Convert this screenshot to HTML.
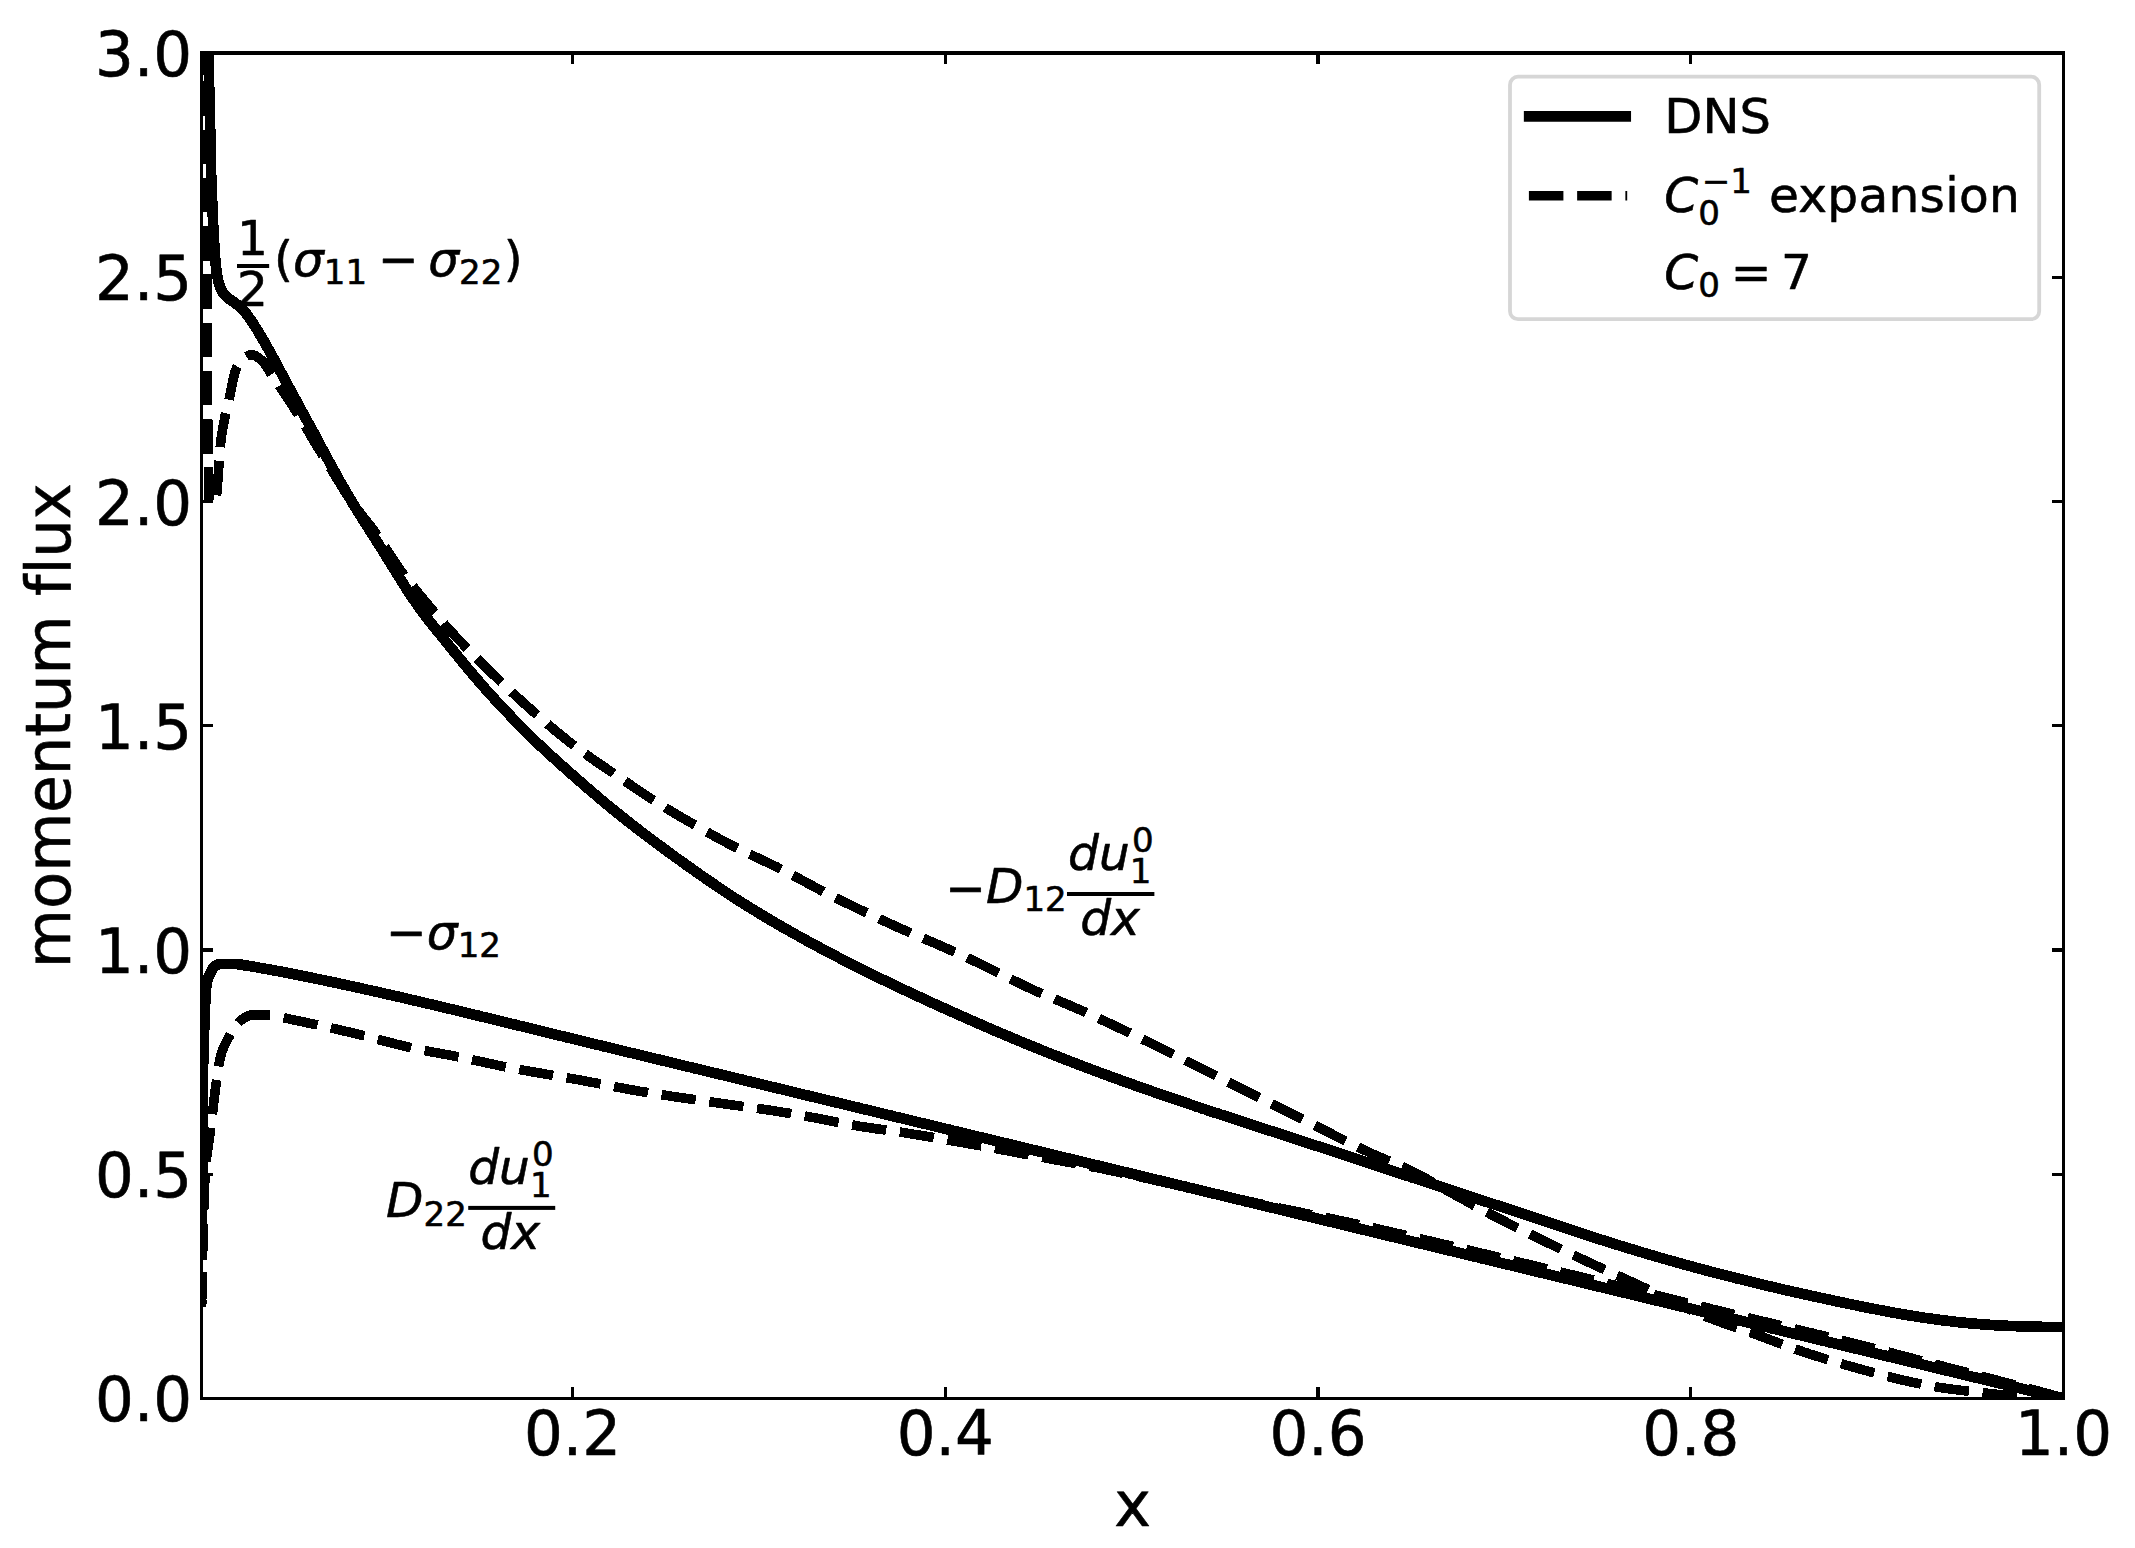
<!DOCTYPE html>
<html lang="en"><head><meta charset="utf-8"><title>momentum flux</title>
<style>html,body{margin:0;padding:0;background:#fff;overflow:hidden}svg{display:block}text{font-family:"DejaVu Sans","Liberation Sans",sans-serif;fill:#000;stroke:#000;stroke-width:0.6px;stroke-linejoin:round;font-variant-ligatures:none;font-kerning:normal}.it{font-style:oblique}</style></head><body>
<svg width="2135" height="1548" viewBox="0 0 2135 1548">
<rect width="2135" height="1548" fill="#fff"/>
<defs><clipPath id="ax"><rect x="201.5" y="53.0" width="1862.0" height="1345.4"/></clipPath></defs>
<g clip-path="url(#ax)" fill="none" stroke="#000" stroke-linejoin="round" shape-rendering="crispEdges">
<path d="M207.5 20.0L207.5 22.0L207.6 24.0L207.6 26.0L207.7 28.0L207.7 30.0L207.8 32.0L207.8 34.0L207.9 36.0L207.9 38.0L208.0 40.0L208.0 42.0L208.1 44.0L208.1 46.0L208.2 48.0L208.2 50.0L208.3 52.0L208.3 54.0L208.4 56.0L208.4 58.0L208.5 60.0L208.5 62.0L208.6 64.1L208.6 66.1L208.7 68.1L208.7 70.1L208.8 72.1L208.8 74.1L208.9 76.1L208.9 78.1L209.0 80.1L209.0 82.1L209.1 84.1L209.1 86.1L209.2 88.1L209.2 90.1L209.3 92.1L209.3 94.1L209.4 96.1L209.4 98.1L209.5 100.1L209.5 102.1L209.6 104.1L209.6 106.1L209.7 108.1L209.7 110.1L209.8 112.1L209.8 114.1L209.9 116.1L209.9 118.1L210.0 120.1L210.0 122.1L210.0 124.1L210.1 126.1L210.1 128.1L210.2 130.1L210.2 132.1L210.3 134.1L210.3 136.1L210.3 138.1L210.4 140.1L210.4 142.1L210.4 144.1L210.5 146.1L210.5 148.1L210.6 150.2L210.6 152.2L210.6 154.2L210.7 156.2L210.7 158.2L210.8 160.2L210.8 162.2L210.9 164.2L210.9 166.2L211.0 168.2L211.0 170.2L211.1 172.2L211.1 174.2L211.2 176.2L211.2 178.2L211.3 180.2L211.4 182.2L211.4 184.2L211.5 186.2L211.6 188.2L211.7 190.2L211.7 192.2L211.8 194.2L211.9 196.2L212.0 198.2L212.1 200.2L212.2 202.2L212.2 204.2L212.3 206.2L212.4 208.2L212.5 210.2L212.6 212.2L212.7 214.2L212.8 216.2L212.9 218.2L213.0 220.2L213.0 222.2L213.1 224.2L213.2 226.2L213.3 228.2L213.4 230.2L213.5 232.2L213.7 234.2L213.8 236.2L213.9 238.2L214.0 240.2L214.1 242.2L214.2 244.2L214.4 246.2L214.5 248.2L214.6 250.2L214.7 252.2L214.9 254.2L215.0 256.2L215.2 258.2L215.3 260.2L215.5 262.2L215.7 264.2L215.9 266.2L216.1 268.2L216.4 270.2L216.7 272.1L217.0 274.1L217.3 276.1L217.7 278.1L218.1 280.0L218.6 282.0L219.1 284.0L219.7 286.0L220.4 287.9L221.2 289.7L222.0 291.4L223.0 293.0L224.3 294.5L225.8 296.0L227.4 297.4L228.9 298.7L230.5 299.9L232.1 301.0L233.8 302.1L235.4 303.3L237.0 304.5L238.5 305.8L240.0 307.2L241.5 308.5L242.9 309.9L244.3 311.4L245.6 312.9L246.8 314.4L248.0 316.1L249.2 317.7L250.3 319.4L251.5 321.0L252.6 322.7L253.7 324.4L254.8 326.1L255.8 327.8L256.9 329.4L258.0 331.2L259.0 332.9L260.0 334.6L261.0 336.3L262.1 338.0L263.1 339.8L264.1 341.5L265.1 343.2L266.1 345.0L267.0 346.7L268.0 348.5L269.0 350.2L270.0 352.0L270.9 353.7L271.9 355.5L272.8 357.3L273.8 359.0L274.7 360.8L275.7 362.6L276.6 364.3L277.6 366.1L278.5 367.9L279.5 369.6L280.4 371.4L281.3 373.1L282.3 374.9L283.2 376.7L284.2 378.4L285.1 380.2L286.1 382.0L287.0 383.7L288.0 385.5L288.9 387.3L289.9 389.0L290.8 390.8L291.8 392.6L292.7 394.3L293.7 396.1L294.6 397.8L295.6 399.6L296.5 401.4L297.5 403.1L298.5 404.9L299.4 406.6L300.4 408.4L301.3 410.2L302.3 411.9L303.2 413.7L304.2 415.4L305.2 417.2L306.1 419.0L307.1 420.7L308.0 422.5L309.0 424.2L309.9 426.0L310.9 427.8L311.8 429.5L312.8 431.3L313.8 433.0L314.7 434.8L315.7 436.6L316.6 438.3L317.6 440.1L318.5 441.9L319.4 443.6L320.4 445.4L321.3 447.2L322.3 448.9L323.2 450.7L324.2 452.4L325.1 454.2L326.1 456.0L327.0 457.7L328.0 459.5L328.9 461.3L329.9 463.0L330.8 464.8L331.8 466.6L332.7 468.3L333.7 470.1L334.7 471.8L335.6 473.6L336.6 475.3L337.6 477.1L338.6 478.8L339.5 480.6L340.5 482.3L341.5 484.1L342.5 485.8L343.5 487.5L344.5 489.3L345.5 491.0L346.5 492.7L347.5 494.5L348.5 496.2L349.6 497.9L350.6 499.6L351.6 501.3L352.7 503.1L353.7 504.8L354.8 506.5L355.8 508.2L356.9 509.9L357.9 511.6L359.0 513.3L360.0 515.0L361.1 516.7L362.2 518.4L363.3 520.1L364.3 521.8L365.4 523.4L366.5 525.1L367.6 526.8L368.6 528.5L369.7 530.2L370.8 531.9L371.9 533.6L372.9 535.3L374.0 537.0L375.1 538.6L376.2 540.3L377.2 542.0L378.3 543.7L379.4 545.4L380.4 547.1L381.5 548.8L382.6 550.5L383.6 552.2L384.7 553.9L385.7 555.6L386.8 557.3L387.8 559.0L388.9 560.7L389.9 562.4L391.0 564.1L392.1 565.8L393.1 567.5L394.2 569.2L395.2 570.9L396.3 572.6L397.3 574.3L398.4 576.0L399.5 577.7L400.5 579.4L401.6 581.1L402.7 582.8L403.7 584.5L404.8 586.2L405.9 587.9L407.0 589.6L408.1 591.2L409.2 592.9L410.3 594.6L411.4 596.3L412.5 597.9L413.6 599.6L414.8 601.2L415.9 602.9L417.1 604.5L418.2 606.1L419.4 607.8L420.6 609.4L421.7 611.0L422.9 612.6L424.1 614.2L425.3 615.8L426.6 617.4L427.8 619.0L429.0 620.6L430.3 622.1L431.5 623.7L432.7 625.3L434.0 626.9L435.2 628.4L436.5 630.0L437.8 631.5L439.0 633.1L440.3 634.6L441.5 636.2L442.8 637.8L444.1 639.3L445.3 640.9L446.6 642.4L447.8 644.0L449.1 645.6L450.4 647.1L451.6 648.7L452.9 650.2L454.1 651.8L455.4 653.3L456.7 654.9L457.9 656.4L459.2 658.0L460.5 659.5L461.7 661.1L463.0 662.6L464.3 664.2L465.6 665.7L466.8 667.3L468.1 668.8L469.4 670.3L470.7 671.9L472.0 673.4L473.3 674.9L474.6 676.5L475.9 678.0L477.2 679.5L478.5 681.0L479.8 682.5L481.1 684.0L482.4 685.6L483.8 687.1L485.1 688.6L486.4 690.1L487.7 691.5L489.1 693.0L490.4 694.5L491.8 696.0L493.1 697.5L494.5 699.0L495.8 700.4L497.2 701.9L498.5 703.4L499.9 704.8L501.3 706.3L502.7 707.8L504.0 709.2L505.4 710.7L506.8 712.1L508.2 713.6L509.6 715.0L510.9 716.5L512.3 717.9L513.7 719.4L515.1 720.8L516.5 722.2L517.9 723.7L519.3 725.1L520.7 726.5L522.1 727.9L523.5 729.4L524.9 730.8L526.4 732.2L527.8 733.6L529.2 735.0L530.6 736.4L532.1 737.8L533.5 739.2L534.9 740.6L536.4 742.0L537.8 743.4L539.3 744.8L540.7 746.2L542.2 747.6L543.6 748.9L545.1 750.3L546.6 751.6L548.0 753.0L549.5 754.3L551.0 755.7L552.5 757.0L554.0 758.4L555.5 759.7L557.0 761.1L558.4 762.4L559.9 763.7L561.4 765.1L562.9 766.4L564.4 767.7L565.9 769.1L567.4 770.4L568.9 771.7L570.4 773.1L571.9 774.4L573.4 775.7L574.9 777.1L576.4 778.4L577.9 779.7L579.4 781.0L580.9 782.3L582.4 783.7L583.9 785.0L585.5 786.3L587.0 787.6L588.5 788.9L590.0 790.2L591.5 791.5L593.0 792.8L594.6 794.1L596.1 795.4L597.6 796.7L599.1 798.0L600.7 799.3L602.2 800.6L603.7 801.9L605.3 803.2L606.8 804.4L608.4 805.7L609.9 807.0L611.5 808.2L613.0 809.5L614.6 810.8L616.1 812.0L617.7 813.3L619.3 814.5L620.8 815.8L622.4 817.0L623.9 818.3L625.5 819.5L627.1 820.8L628.7 822.0L630.2 823.2L631.8 824.5L633.4 825.7L635.0 826.9L636.6 828.2L638.2 829.4L639.7 830.6L641.3 831.8L642.9 833.0L644.5 834.2L646.1 835.5L647.7 836.7L649.3 837.9L650.9 839.1L652.5 840.3L654.1 841.5L655.7 842.7L657.3 843.9L659.0 845.1L660.6 846.2L662.2 847.4L663.8 848.6L665.4 849.8L667.0 851.0L668.6 852.2L670.3 853.3L671.9 854.5L673.5 855.7L675.1 856.9L676.7 858.1L678.4 859.2L680.0 860.4L681.6 861.6L683.2 862.7L684.9 863.9L686.5 865.1L688.1 866.2L689.8 867.4L691.4 868.5L693.0 869.7L694.7 870.9L696.3 872.0L697.9 873.2L699.6 874.3L701.2 875.5L702.9 876.6L704.5 877.8L706.2 878.9L707.8 880.0L709.5 881.2L711.1 882.3L712.8 883.4L714.4 884.6L716.1 885.7L717.7 886.8L719.4 887.9L721.1 889.0L722.7 890.2L724.4 891.3L726.1 892.4L727.7 893.5L729.4 894.6L731.1 895.7L732.8 896.8L734.4 897.9L736.1 898.9L737.8 900.0L739.5 901.1L741.2 902.2L742.9 903.2L744.6 904.3L746.3 905.4L748.0 906.4L749.7 907.5L751.4 908.5L753.1 909.6L754.8 910.6L756.5 911.7L758.2 912.7L759.9 913.8L761.6 914.8L763.4 915.8L765.1 916.9L766.8 917.9L768.5 918.9L770.2 919.9L772.0 920.9L773.7 921.9L775.4 923.0L777.2 924.0L778.9 925.0L780.6 926.0L782.4 927.0L784.1 928.0L785.8 929.0L787.6 929.9L789.3 930.9L791.1 931.9L792.8 932.9L794.6 933.9L796.3 934.9L798.1 935.8L799.8 936.8L801.6 937.8L803.3 938.7L805.1 939.7L806.8 940.7L808.6 941.6L810.3 942.6L812.1 943.5L813.9 944.5L815.6 945.4L817.4 946.4L819.2 947.3L820.9 948.3L822.7 949.2L824.5 950.2L826.2 951.1L828.0 952.0L829.8 953.0L831.6 953.9L833.3 954.8L835.1 955.7L836.9 956.7L838.7 957.6L840.4 958.5L842.2 959.4L844.0 960.3L845.8 961.2L847.6 962.2L849.4 963.1L851.1 964.0L852.9 964.9L854.7 965.8L856.5 966.7L858.3 967.6L860.1 968.5L861.9 969.4L863.7 970.3L865.5 971.2L867.3 972.0L869.1 972.9L870.8 973.8L872.6 974.7L874.4 975.6L876.2 976.5L878.0 977.3L879.8 978.2L881.6 979.1L883.4 980.0L885.3 980.8L887.1 981.7L888.9 982.6L890.7 983.4L892.5 984.3L894.3 985.2L896.1 986.0L897.9 986.9L899.7 987.8L901.5 988.6L903.3 989.5L905.1 990.3L907.0 991.2L908.8 992.0L910.6 992.9L912.4 993.7L914.2 994.6L916.0 995.4L917.8 996.3L919.7 997.1L921.5 997.9L923.3 998.8L925.1 999.6L926.9 1000.5L928.8 1001.3L930.6 1002.1L932.4 1003.0L934.2 1003.8L936.0 1004.6L937.9 1005.5L939.7 1006.3L941.5 1007.1L943.3 1007.9L945.2 1008.8L947.0 1009.6L948.8 1010.4L950.6 1011.2L952.5 1012.0L954.3 1012.9L956.1 1013.7L958.0 1014.5L959.8 1015.3L961.6 1016.1L963.4 1016.9L965.3 1017.7L967.1 1018.6L968.9 1019.4L970.8 1020.2L972.6 1021.0L974.4 1021.8L976.3 1022.6L978.1 1023.4L979.9 1024.2L981.8 1025.0L983.6 1025.8L985.5 1026.6L987.3 1027.4L989.1 1028.2L991.0 1029.0L992.8 1029.8L994.6 1030.6L996.5 1031.4L998.3 1032.1L1000.2 1032.9L1002.0 1033.7L1003.9 1034.5L1005.7 1035.3L1007.5 1036.1L1009.4 1036.8L1011.2 1037.6L1013.1 1038.4L1014.9 1039.2L1016.8 1039.9L1018.6 1040.7L1020.5 1041.5L1022.3 1042.3L1024.2 1043.0L1026.0 1043.8L1027.9 1044.6L1029.7 1045.3L1031.6 1046.1L1033.4 1046.8L1035.3 1047.6L1037.1 1048.3L1039.0 1049.1L1040.9 1049.8L1042.7 1050.6L1044.6 1051.3L1046.4 1052.1L1048.3 1052.8L1050.2 1053.6L1052.0 1054.3L1053.9 1055.0L1055.7 1055.8L1057.6 1056.5L1059.5 1057.2L1061.3 1058.0L1063.2 1058.7L1065.1 1059.4L1066.9 1060.2L1068.8 1060.9L1070.7 1061.6L1072.5 1062.3L1074.4 1063.0L1076.3 1063.8L1078.1 1064.5L1080.0 1065.2L1081.9 1065.9L1083.8 1066.6L1085.6 1067.3L1087.5 1068.0L1089.4 1068.7L1091.3 1069.4L1093.1 1070.1L1095.0 1070.8L1096.9 1071.5L1098.8 1072.2L1100.6 1072.9L1102.5 1073.6L1104.4 1074.3L1106.3 1075.0L1108.2 1075.7L1110.0 1076.4L1111.9 1077.1L1113.8 1077.7L1115.7 1078.4L1117.6 1079.1L1119.5 1079.8L1121.3 1080.5L1123.2 1081.2L1125.1 1081.8L1127.0 1082.5L1128.9 1083.2L1130.8 1083.9L1132.7 1084.5L1134.5 1085.2L1136.4 1085.9L1138.3 1086.5L1140.2 1087.2L1142.1 1087.9L1144.0 1088.5L1145.9 1089.2L1147.8 1089.9L1149.7 1090.5L1151.6 1091.2L1153.4 1091.8L1155.3 1092.5L1157.2 1093.1L1159.1 1093.8L1161.0 1094.4L1162.9 1095.1L1164.8 1095.8L1166.7 1096.4L1168.6 1097.1L1170.5 1097.7L1172.4 1098.4L1174.3 1099.0L1176.2 1099.6L1178.1 1100.3L1180.0 1100.9L1181.9 1101.6L1183.8 1102.2L1185.7 1102.9L1187.6 1103.5L1189.5 1104.1L1191.3 1104.8L1193.2 1105.4L1195.1 1106.1L1197.0 1106.7L1198.9 1107.3L1200.8 1108.0L1202.7 1108.6L1204.6 1109.2L1206.5 1109.9L1208.4 1110.5L1210.3 1111.1L1212.2 1111.8L1214.1 1112.4L1216.1 1113.0L1218.0 1113.6L1219.9 1114.3L1221.8 1114.9L1223.7 1115.5L1225.6 1116.2L1227.5 1116.8L1229.4 1117.4L1231.3 1118.0L1233.2 1118.7L1235.1 1119.3L1237.0 1119.9L1238.9 1120.5L1240.8 1121.2L1242.7 1121.8L1244.6 1122.4L1246.5 1123.0L1248.4 1123.6L1250.3 1124.3L1252.2 1124.9L1254.1 1125.5L1256.0 1126.1L1257.9 1126.8L1259.8 1127.4L1261.7 1128.0L1263.6 1128.6L1265.5 1129.2L1267.4 1129.9L1269.3 1130.5L1271.2 1131.1L1273.2 1131.7L1275.1 1132.3L1277.0 1133.0L1278.9 1133.6L1280.8 1134.2L1282.7 1134.8L1284.6 1135.4L1286.5 1136.1L1288.4 1136.7L1290.3 1137.3L1292.2 1137.9L1294.1 1138.5L1296.0 1139.2L1297.9 1139.8L1299.8 1140.4L1301.7 1141.0L1303.6 1141.6L1305.5 1142.3L1307.4 1142.9L1309.3 1143.5L1311.2 1144.1L1313.1 1144.8L1315.0 1145.4L1316.9 1146.0L1318.9 1146.6L1320.8 1147.2L1322.7 1147.9L1324.6 1148.5L1326.5 1149.1L1328.4 1149.7L1330.3 1150.4L1332.2 1151.0L1334.1 1151.6L1336.0 1152.3L1337.9 1152.9L1339.8 1153.5L1341.7 1154.1L1343.6 1154.8L1345.5 1155.4L1347.4 1156.0L1349.3 1156.6L1351.2 1157.3L1353.1 1157.9L1355.0 1158.5L1356.9 1159.2L1358.8 1159.8L1360.7 1160.4L1362.6 1161.0L1364.5 1161.7L1366.4 1162.3L1368.3 1162.9L1370.2 1163.6L1372.1 1164.2L1374.0 1164.8L1375.9 1165.4L1377.8 1166.1L1379.7 1166.7L1381.6 1167.3L1383.5 1168.0L1385.4 1168.6L1387.3 1169.2L1389.2 1169.8L1391.1 1170.5L1393.0 1171.1L1394.9 1171.7L1396.8 1172.4L1398.7 1173.0L1400.6 1173.6L1402.5 1174.2L1404.4 1174.9L1406.3 1175.5L1408.2 1176.1L1410.1 1176.7L1412.1 1177.4L1414.0 1178.0L1415.9 1178.6L1417.8 1179.2L1419.7 1179.9L1421.6 1180.5L1423.5 1181.1L1425.4 1181.7L1427.3 1182.4L1429.2 1183.0L1431.1 1183.6L1433.0 1184.2L1434.9 1184.9L1436.8 1185.5L1438.7 1186.1L1440.6 1186.7L1442.5 1187.4L1444.4 1188.0L1446.3 1188.6L1448.2 1189.3L1450.1 1189.9L1452.0 1190.5L1453.9 1191.1L1455.8 1191.8L1457.7 1192.4L1459.6 1193.0L1461.5 1193.6L1463.4 1194.3L1465.3 1194.9L1467.2 1195.5L1469.1 1196.1L1471.0 1196.8L1472.9 1197.4L1474.8 1198.0L1476.7 1198.6L1478.6 1199.3L1480.5 1199.9L1482.4 1200.5L1484.3 1201.2L1486.3 1201.8L1488.2 1202.4L1490.1 1203.0L1492.0 1203.7L1493.9 1204.3L1495.8 1204.9L1497.7 1205.5L1499.6 1206.2L1501.5 1206.8L1503.4 1207.4L1505.3 1208.1L1507.2 1208.7L1509.1 1209.3L1511.0 1210.0L1512.9 1210.6L1514.8 1211.2L1516.7 1211.8L1518.6 1212.5L1520.5 1213.1L1522.4 1213.7L1524.3 1214.4L1526.2 1215.0L1528.1 1215.6L1530.0 1216.3L1531.9 1216.9L1533.8 1217.5L1535.7 1218.2L1537.6 1218.8L1539.5 1219.4L1541.4 1220.1L1543.3 1220.7L1545.2 1221.3L1547.1 1222.0L1549.0 1222.6L1550.9 1223.2L1552.8 1223.9L1554.7 1224.5L1556.6 1225.1L1558.5 1225.8L1560.4 1226.4L1562.3 1227.0L1564.2 1227.7L1566.1 1228.3L1568.0 1228.9L1569.9 1229.6L1571.8 1230.2L1573.7 1230.8L1575.6 1231.5L1577.5 1232.1L1579.4 1232.7L1581.3 1233.3L1583.2 1234.0L1585.1 1234.6L1587.0 1235.2L1588.9 1235.8L1590.8 1236.4L1592.7 1237.1L1594.6 1237.7L1596.5 1238.3L1598.4 1238.9L1600.3 1239.5L1602.3 1240.1L1604.2 1240.7L1606.1 1241.3L1608.0 1241.9L1609.9 1242.5L1611.8 1243.1L1613.7 1243.7L1615.6 1244.3L1617.5 1244.9L1619.5 1245.5L1621.4 1246.1L1623.3 1246.7L1625.2 1247.3L1627.1 1247.9L1629.0 1248.5L1630.9 1249.0L1632.9 1249.6L1634.8 1250.2L1636.7 1250.8L1638.6 1251.3L1640.5 1251.9L1642.5 1252.5L1644.4 1253.1L1646.3 1253.6L1648.2 1254.2L1650.1 1254.8L1652.1 1255.3L1654.0 1255.9L1655.9 1256.4L1657.8 1257.0L1659.8 1257.6L1661.7 1258.1L1663.6 1258.7L1665.5 1259.2L1667.5 1259.8L1669.4 1260.3L1671.3 1260.9L1673.2 1261.4L1675.2 1261.9L1677.1 1262.5L1679.0 1263.0L1681.0 1263.6L1682.9 1264.1L1684.8 1264.6L1686.7 1265.2L1688.7 1265.7L1690.6 1266.2L1692.5 1266.7L1694.5 1267.3L1696.4 1267.8L1698.3 1268.3L1700.3 1268.8L1702.2 1269.3L1704.1 1269.9L1706.1 1270.4L1708.0 1270.9L1710.0 1271.4L1711.9 1271.9L1713.8 1272.4L1715.8 1272.9L1717.7 1273.4L1719.6 1273.9L1721.6 1274.4L1723.5 1274.9L1725.5 1275.4L1727.4 1275.9L1729.3 1276.4L1731.3 1276.9L1733.2 1277.4L1735.2 1277.9L1737.1 1278.4L1739.1 1278.9L1741.0 1279.3L1742.9 1279.8L1744.9 1280.3L1746.8 1280.8L1748.8 1281.3L1750.7 1281.7L1752.7 1282.2L1754.6 1282.7L1756.6 1283.2L1758.5 1283.6L1760.5 1284.1L1762.4 1284.6L1764.3 1285.0L1766.3 1285.5L1768.2 1286.0L1770.2 1286.4L1772.1 1286.9L1774.1 1287.3L1776.0 1287.8L1778.0 1288.3L1779.9 1288.7L1781.9 1289.2L1783.8 1289.6L1785.8 1290.1L1787.7 1290.5L1789.7 1291.0L1791.7 1291.4L1793.6 1291.8L1795.6 1292.3L1797.5 1292.7L1799.5 1293.2L1801.4 1293.6L1803.4 1294.0L1805.3 1294.5L1807.3 1294.9L1809.2 1295.3L1811.2 1295.8L1813.2 1296.2L1815.1 1296.6L1817.1 1297.1L1819.0 1297.5L1821.0 1297.9L1822.9 1298.3L1824.9 1298.8L1826.9 1299.2L1828.8 1299.6L1830.8 1300.0L1832.7 1300.5L1834.7 1300.9L1836.6 1301.3L1838.6 1301.7L1840.6 1302.1L1842.5 1302.5L1844.5 1302.9L1846.4 1303.4L1848.4 1303.8L1850.4 1304.2L1852.3 1304.6L1854.3 1305.0L1856.2 1305.4L1858.2 1305.8L1860.2 1306.2L1862.1 1306.6L1864.1 1307.0L1866.1 1307.4L1868.0 1307.8L1870.0 1308.2L1872.0 1308.6L1873.9 1309.0L1875.9 1309.3L1877.9 1309.7L1879.8 1310.1L1881.8 1310.5L1883.8 1310.8L1885.7 1311.2L1887.7 1311.6L1889.7 1311.9L1891.6 1312.3L1893.6 1312.7L1895.6 1313.0L1897.5 1313.4L1899.5 1313.7L1901.5 1314.1L1903.5 1314.4L1905.4 1314.7L1907.4 1315.1L1909.4 1315.4L1911.4 1315.7L1913.3 1316.0L1915.3 1316.4L1917.3 1316.7L1919.3 1317.0L1921.3 1317.3L1923.2 1317.6L1925.2 1317.9L1927.2 1318.2L1929.2 1318.4L1931.2 1318.7L1933.2 1319.0L1935.1 1319.3L1937.1 1319.5L1939.1 1319.8L1941.1 1320.1L1943.1 1320.3L1945.1 1320.6L1947.1 1320.8L1949.0 1321.0L1951.0 1321.3L1953.0 1321.5L1955.0 1321.7L1957.0 1322.0L1959.0 1322.2L1961.0 1322.4L1963.0 1322.6L1965.0 1322.8L1967.0 1323.0L1969.0 1323.2L1971.0 1323.4L1972.9 1323.5L1974.9 1323.7L1976.9 1323.9L1978.9 1324.0L1980.9 1324.2L1982.9 1324.3L1984.9 1324.5L1986.9 1324.6L1988.9 1324.8L1990.9 1324.9L1992.9 1325.0L1994.9 1325.2L1996.9 1325.3L1998.9 1325.4L2000.9 1325.5L2002.9 1325.6L2004.9 1325.7L2006.9 1325.8L2008.9 1325.9L2010.9 1326.0L2012.9 1326.0L2014.9 1326.1L2016.9 1326.2L2018.9 1326.3L2020.9 1326.3L2022.9 1326.4L2024.9 1326.4L2026.9 1326.5L2028.9 1326.6L2030.9 1326.6L2032.9 1326.7L2034.9 1326.7L2036.9 1326.7L2039.0 1326.8L2041.0 1326.8L2043.0 1326.9L2045.0 1326.9L2047.0 1326.9L2049.0 1326.9L2051.0 1327.0L2053.0 1327.0L2055.0 1327.0L2057.0 1327.0L2059.0 1327.1L2061.0 1327.1L2063.0 1327.1L2065.0 1327.1L2067.0 1327.1L2069.0 1327.2L2071.0 1327.2L2073.0 1327.2L2075.0 1327.2" stroke-width="10.7" stroke-linecap="square"/>
<path d="M207.0 33.2L207.0 35.2L207.0 37.2L207.0 39.2L207.0 41.2L207.0 43.2L207.0 45.2L207.0 47.2L207.0 49.2L207.0 51.2L207.0 53.2L207.0 55.2L207.0 57.2L207.0 59.2L207.0 61.2L207.0 63.2L207.0 65.2L207.0 67.2L207.0 69.2L207.0 71.2L207.0 73.2L207.0 75.2L207.0 77.3L207.0 79.3L207.0 81.3L207.0 83.3L207.0 85.3L207.0 87.3L207.0 89.3L207.0 91.3L207.0 93.3L207.0 95.3L207.0 97.3L207.0 99.3L207.0 101.3L207.0 103.3L207.0 105.3L207.0 107.3L207.0 109.3L207.0 111.3L207.0 113.3L207.0 115.3L207.0 117.3L207.0 119.3L207.0 121.3L207.0 123.3L207.0 125.3L207.0 127.3L207.0 129.3L207.0 131.3L207.0 133.3L207.0 135.3L207.0 137.3L207.0 139.3L207.0 141.3L207.0 143.3L207.0 145.3L207.0 147.3L207.0 149.3L207.0 151.3L207.0 153.3L207.0 155.3L207.0 157.3L207.0 159.3L207.0 161.3L207.0 163.4L207.0 165.4L207.0 167.4L207.0 169.4L207.0 171.4L207.0 173.4L207.0 175.4L207.0 177.4L207.0 179.4L207.0 181.4L207.0 183.4L207.0 185.4L207.0 187.4L207.0 189.4L207.0 191.4L207.0 193.4L207.0 195.4L207.0 197.4L207.0 199.4L207.0 201.4L207.0 203.4L207.0 205.4L207.0 207.4L207.0 209.4L207.0 211.4L207.0 213.4L207.0 215.4L207.0 217.4L207.0 219.4L207.0 221.4L207.0 223.4L207.0 225.4L207.0 227.4L207.0 229.4L207.0 231.4L207.0 233.4L207.0 235.4L207.0 237.4L207.0 239.4L207.0 241.4L207.0 243.4L207.0 245.4L207.0 247.4L207.0 249.5L207.0 251.5L207.0 253.5L207.0 255.5L207.0 257.5L207.0 259.5L207.1 261.5L207.1 263.5L207.1 265.5L207.1 267.5L207.1 269.5L207.1 271.5L207.1 273.5L207.1 275.5L207.1 277.5L207.1 279.5L207.1 281.5L207.1 283.5L207.1 285.5L207.1 287.5L207.1 289.5L207.1 291.5L207.1 293.5L207.1 295.5L207.1 297.5L207.1 299.5L207.1 301.5L207.1 303.5L207.1 305.5L207.2 307.5L207.2 309.5L207.2 311.5L207.2 313.5L207.2 315.5L207.2 317.5L207.2 319.5L207.2 321.5L207.2 323.5L207.2 325.5L207.2 327.5L207.2 329.5L207.2 331.5L207.2 333.5L207.2 335.6L207.2 337.6L207.3 339.6L207.3 341.6L207.3 343.6L207.3 345.6L207.3 347.6L207.3 349.6L207.3 351.6L207.3 353.6L207.3 355.6L207.3 357.6L207.3 359.6L207.3 361.6L207.3 363.6L207.4 365.6L207.4 367.6L207.4 369.6L207.4 371.6L207.4 373.6L207.4 375.6L207.4 377.6L207.4 379.6L207.4 381.6L207.4 383.6L207.4 385.6L207.4 387.6L207.5 389.6L207.5 391.6L207.5 393.6L207.5 395.6L207.5 397.6L207.5 399.6L207.5 401.6L207.5 403.6L207.5 405.6L207.5 407.6L207.6 409.6L207.6 411.6L207.6 413.6L207.6 415.6L207.6 417.6L207.7 419.6L207.7 421.6L207.7 423.6L207.7 425.7L207.7 427.7L207.8 429.7L207.8 431.7L207.8 433.7L207.8 435.7L207.9 437.7L207.9 439.7L207.9 441.7L208.0 443.7L208.0 445.7L208.0 447.7L208.0 449.7L208.1 451.7L208.1 453.7L208.1 455.7L208.2 457.7L208.2 459.7L208.2 461.7L208.3 463.7L208.3 465.7L208.3 467.7L208.3 469.7L208.4 471.7L208.4 473.7L208.4 475.7L208.4 477.7L208.4 479.7L208.5 481.8L208.5 483.8L208.5 485.8L208.6 487.8L208.6 489.8L208.7 491.8L208.8 493.7L208.8 495.7L209.1 497.9L209.4 500.0L210.0 501.8L211.0 503.3L212.9 503.8L214.7 502.6L215.5 501.0L216.0 499.0L216.3 496.9L216.6 494.9L216.8 493.0L217.0 491.0L217.2 489.0L217.4 487.0L217.5 485.0L217.6 483.0L217.8 481.0L217.9 479.0L218.1 477.0L218.2 475.0L218.4 473.0L218.5 471.0L218.6 469.0L218.8 467.0L218.9 465.0L219.0 463.0L219.1 461.0L219.3 459.0L219.4 457.0L219.5 455.0L219.7 453.0L219.8 451.0L220.0 449.0L220.2 447.0L220.4 445.0L220.6 443.0L220.9 441.0L221.1 439.1L221.4 437.1L221.7 435.1L222.0 433.1L222.3 431.1L222.7 429.1L223.0 427.2L223.4 425.2L223.7 423.2L224.1 421.3L224.5 419.3L224.9 417.3L225.2 415.4L225.6 413.4L226.1 411.4L226.5 409.5L227.0 407.6L227.5 405.6L228.0 403.7L228.5 401.7L229.0 399.8L229.4 397.8L229.9 395.9L230.3 393.9L230.7 391.9L231.1 389.9L231.4 387.8L231.8 385.8L232.2 383.8L232.6 381.9L233.0 379.9L233.5 377.9L234.0 376.0L234.5 374.1L235.0 372.2L235.6 370.3L236.3 368.5L237.0 366.7L237.9 365.0L239.0 363.2L240.3 361.6L241.6 360.1L243.1 358.9L244.8 357.8L246.5 356.6L248.2 355.5L250.1 355.0L252.1 354.8L254.1 355.1L255.9 355.8L257.5 357.0L259.1 358.3L260.8 359.5L262.3 360.8L263.6 362.2L264.7 363.8L265.9 365.4L266.9 367.1L268.0 368.9L269.0 370.6L270.1 372.4L271.1 374.1L272.2 375.8L273.4 377.4L274.5 379.0L275.7 380.7L276.8 382.3L277.9 384.0L279.1 385.6L280.2 387.3L281.4 388.9L282.5 390.6L283.6 392.2L284.8 393.9L285.9 395.5L287.0 397.2L288.1 398.9L289.2 400.5L290.3 402.2L291.4 403.9L292.5 405.6L293.6 407.3L294.6 409.0L295.7 410.7L296.8 412.4L297.8 414.1L298.8 415.8L299.9 417.5L300.9 419.2L302.0 420.9L303.0 422.6L304.0 424.3L305.1 426.0L306.1 427.8L307.1 429.5L308.1 431.2L309.2 432.9L310.2 434.7L311.2 436.4L312.2 438.1L313.2 439.8L314.3 441.5L315.3 443.3L316.3 445.0L317.4 446.7L318.4 448.4L319.4 450.1L320.5 451.8L321.5 453.5L322.5 455.3L323.6 457.0L324.6 458.7L325.7 460.4L326.7 462.1L327.8 463.8L328.8 465.5L329.9 467.2L330.9 468.9L332.0 470.6L333.0 472.3L334.1 474.0L335.1 475.7L336.2 477.4L337.2 479.1L338.3 480.8L339.3 482.5L340.4 484.3L341.4 486.0L342.5 487.6L343.6 489.3L344.6 491.0L345.7 492.7L346.8 494.4L347.9 496.1L349.0 497.7L350.1 499.4L351.3 501.0L352.4 502.7L353.6 504.3L354.8 505.9L356.0 507.5L357.2 509.1L358.4 510.7L359.6 512.3L360.8 513.9L362.1 515.5L363.3 517.0L364.6 518.6L365.8 520.1L367.1 521.7L368.3 523.3L369.5 524.9L370.8 526.5L372.0 528.1L373.2 529.7L374.4 531.3L375.5 532.9L376.7 534.5L377.8 536.2L379.0 537.8L380.1 539.5L381.2 541.2L382.3 542.8L383.4 544.5L384.5 546.2L385.6 547.8L386.7 549.5L387.8 551.2L388.9 552.9L390.0 554.6L391.1 556.2L392.2 557.9L393.3 559.6L394.4 561.3L395.5 562.9L396.6 564.6L397.7 566.2L398.8 567.9L400.0 569.5L401.2 571.2L402.3 572.8L403.5 574.4L404.7 576.0L405.9 577.6L407.1 579.2L408.3 580.8L409.6 582.4L410.8 583.9L412.1 585.5L413.4 587.0L414.6 588.6L415.9 590.1L417.2 591.7L418.4 593.2L419.7 594.8L421.0 596.3L422.3 597.8L423.6 599.4L424.9 600.9L426.2 602.4L427.4 604.0L428.7 605.5L430.0 607.1L431.3 608.6L432.5 610.1L433.8 611.7L435.1 613.2L436.4 614.8L437.7 616.3L438.9 617.8L440.2 619.4L441.5 620.9L442.9 622.4L444.2 623.9L445.5 625.4L446.8 626.9L448.2 628.4L449.5 629.9L450.8 631.4L452.2 632.8L453.6 634.3L454.9 635.8L456.3 637.2L457.7 638.7L459.1 640.1L460.5 641.6L461.9 643.0L463.2 644.4L464.6 645.9L466.0 647.3L467.4 648.7L468.8 650.2L470.2 651.6L471.7 653.0L473.1 654.5L474.5 655.9L475.9 657.3L477.3 658.7L478.7 660.1L480.1 661.6L481.5 663.0L482.9 664.4L484.4 665.8L485.8 667.2L487.2 668.6L488.6 670.0L490.1 671.4L491.5 672.8L492.9 674.2L494.4 675.6L495.8 677.0L497.2 678.4L498.7 679.8L500.1 681.2L501.6 682.6L503.0 683.9L504.5 685.3L505.9 686.7L507.4 688.1L508.9 689.4L510.3 690.8L511.8 692.2L513.3 693.5L514.7 694.9L516.2 696.2L517.7 697.6L519.2 698.9L520.7 700.3L522.1 701.6L523.6 703.0L525.1 704.3L526.6 705.6L528.1 707.0L529.6 708.3L531.1 709.6L532.6 711.0L534.1 712.3L535.6 713.6L537.1 714.9L538.6 716.3L540.1 717.6L541.6 718.9L543.1 720.2L544.6 721.5L546.2 722.8L547.7 724.1L549.2 725.4L550.7 726.7L552.3 728.0L553.8 729.3L555.3 730.6L556.9 731.9L558.4 733.1L560.0 734.4L561.5 735.7L563.1 736.9L564.6 738.2L566.2 739.4L567.8 740.7L569.3 741.9L570.9 743.2L572.5 744.4L574.1 745.6L575.7 746.8L577.3 748.0L578.9 749.2L580.5 750.4L582.1 751.6L583.7 752.8L585.4 753.9L587.0 755.1L588.6 756.3L590.2 757.4L591.9 758.6L593.5 759.7L595.2 760.9L596.8 762.0L598.5 763.1L600.1 764.3L601.8 765.4L603.4 766.5L605.1 767.6L606.7 768.8L608.4 769.9L610.1 771.0L611.7 772.1L613.4 773.3L615.0 774.4L616.7 775.5L618.3 776.7L620.0 777.8L621.6 778.9L623.3 780.0L624.9 781.2L626.6 782.3L628.3 783.4L629.9 784.5L631.6 785.7L633.2 786.8L634.9 787.9L636.5 789.0L638.2 790.2L639.9 791.3L641.5 792.4L643.2 793.5L644.9 794.6L646.5 795.7L648.2 796.8L649.9 797.9L651.6 799.0L653.3 800.1L654.9 801.1L656.6 802.2L658.3 803.3L660.0 804.3L661.7 805.4L663.4 806.5L665.1 807.5L666.8 808.6L668.5 809.6L670.3 810.6L672.0 811.7L673.7 812.7L675.4 813.7L677.1 814.7L678.9 815.8L680.6 816.8L682.3 817.8L684.0 818.8L685.8 819.8L687.5 820.8L689.2 821.8L691.0 822.8L692.7 823.8L694.4 824.8L696.2 825.8L697.9 826.8L699.7 827.8L701.4 828.8L703.1 829.8L704.9 830.8L706.6 831.8L708.4 832.7L710.1 833.7L711.9 834.7L713.6 835.7L715.4 836.6L717.1 837.6L718.9 838.6L720.6 839.5L722.4 840.5L724.2 841.4L725.9 842.3L727.7 843.3L729.5 844.2L731.3 845.1L733.0 846.0L734.8 847.0L736.6 847.9L738.4 848.7L740.2 849.6L742.0 850.5L743.8 851.4L745.6 852.3L747.4 853.1L749.2 854.0L751.0 854.8L752.8 855.7L754.6 856.5L756.5 857.4L758.3 858.2L760.1 859.1L761.9 859.9L763.7 860.8L765.5 861.6L767.3 862.5L769.1 863.4L770.9 864.2L772.8 865.1L774.6 866.0L776.4 866.8L778.1 867.7L779.9 868.6L781.7 869.5L783.5 870.4L785.3 871.3L787.1 872.3L788.8 873.2L790.6 874.1L792.4 875.1L794.2 876.0L795.9 876.9L797.7 877.9L799.5 878.8L801.2 879.8L803.0 880.7L804.7 881.7L806.5 882.6L808.3 883.6L810.0 884.5L811.8 885.5L813.5 886.4L815.3 887.4L817.1 888.3L818.9 889.3L820.6 890.2L822.4 891.1L824.2 892.1L826.0 893.0L827.7 893.9L829.5 894.8L831.3 895.7L833.1 896.6L834.9 897.5L836.7 898.4L838.5 899.2L840.3 900.1L842.1 901.0L843.9 901.9L845.7 902.8L847.5 903.6L849.3 904.5L851.1 905.4L852.9 906.2L854.7 907.1L856.5 907.9L858.3 908.8L860.1 909.7L861.9 910.5L863.8 911.4L865.6 912.3L867.4 913.1L869.2 914.0L871.0 914.8L872.8 915.7L874.6 916.5L876.4 917.4L878.2 918.3L880.0 919.1L881.9 920.0L883.7 920.8L885.5 921.6L887.3 922.5L889.1 923.3L890.9 924.2L892.8 925.0L894.6 925.8L896.4 926.6L898.2 927.5L900.1 928.3L901.9 929.1L903.7 929.9L905.6 930.7L907.4 931.5L909.2 932.3L911.1 933.1L912.9 933.9L914.8 934.7L916.6 935.4L918.4 936.2L920.3 937.0L922.1 937.8L924.0 938.6L925.8 939.4L927.6 940.2L929.5 941.0L931.3 941.8L933.2 942.5L935.0 943.3L936.8 944.1L938.7 944.9L940.5 945.7L942.3 946.5L944.2 947.3L946.0 948.1L947.8 948.9L949.7 949.8L951.5 950.6L953.3 951.4L955.2 952.2L957.0 953.0L958.8 953.9L960.6 954.7L962.4 955.5L964.3 956.4L966.1 957.2L967.9 958.1L969.7 958.9L971.5 959.7L973.3 960.6L975.1 961.5L977.0 962.3L978.8 963.2L980.6 964.1L982.4 964.9L984.2 965.8L986.0 966.7L987.8 967.6L989.6 968.5L991.3 969.4L993.1 970.2L994.9 971.1L996.7 972.0L998.5 972.9L1000.3 973.8L1002.1 974.7L1003.9 975.6L1005.7 976.5L1007.5 977.4L1009.3 978.3L1011.1 979.2L1012.9 980.1L1014.6 981.0L1016.4 981.8L1018.2 982.7L1020.0 983.6L1021.8 984.5L1023.6 985.3L1025.5 986.2L1027.3 987.1L1029.1 987.9L1030.9 988.8L1032.7 989.6L1034.5 990.4L1036.3 991.3L1038.2 992.1L1040.0 992.9L1041.8 993.7L1043.7 994.5L1045.5 995.3L1047.4 996.1L1049.2 996.9L1051.1 997.6L1052.9 998.4L1054.8 999.2L1056.6 999.9L1058.5 1000.7L1060.3 1001.5L1062.2 1002.2L1064.0 1003.0L1065.8 1003.8L1067.7 1004.5L1069.5 1005.3L1071.4 1006.1L1073.2 1006.9L1075.1 1007.7L1076.9 1008.5L1078.7 1009.3L1080.6 1010.1L1082.4 1010.9L1084.2 1011.7L1086.0 1012.5L1087.9 1013.4L1089.7 1014.2L1091.5 1015.0L1093.3 1015.9L1095.2 1016.7L1097.0 1017.5L1098.8 1018.4L1100.6 1019.2L1102.4 1020.1L1104.2 1020.9L1106.0 1021.8L1107.9 1022.6L1109.7 1023.5L1111.5 1024.3L1113.3 1025.2L1115.1 1026.0L1116.9 1026.9L1118.7 1027.8L1120.5 1028.6L1122.3 1029.5L1124.1 1030.3L1125.9 1031.2L1127.8 1032.1L1129.6 1032.9L1131.4 1033.8L1133.2 1034.7L1135.0 1035.5L1136.8 1036.4L1138.6 1037.3L1140.4 1038.2L1142.2 1039.0L1144.0 1039.9L1145.8 1040.8L1147.6 1041.6L1149.4 1042.5L1151.2 1043.4L1153.0 1044.3L1154.8 1045.2L1156.6 1046.0L1158.4 1046.9L1160.2 1047.8L1162.0 1048.7L1163.8 1049.6L1165.6 1050.5L1167.4 1051.4L1169.1 1052.3L1170.9 1053.2L1172.7 1054.0L1174.5 1054.9L1176.3 1055.8L1178.1 1056.7L1179.9 1057.6L1181.7 1058.5L1183.5 1059.4L1185.3 1060.3L1187.0 1061.2L1188.8 1062.1L1190.6 1063.0L1192.4 1063.9L1194.2 1064.8L1196.0 1065.7L1197.8 1066.6L1199.6 1067.5L1201.3 1068.4L1203.1 1069.3L1204.9 1070.3L1206.7 1071.2L1208.5 1072.1L1210.3 1073.0L1212.1 1073.9L1213.9 1074.8L1215.6 1075.7L1217.4 1076.6L1219.2 1077.5L1221.0 1078.4L1222.8 1079.3L1224.6 1080.2L1226.4 1081.1L1228.1 1082.0L1229.9 1082.9L1231.7 1083.8L1233.5 1084.7L1235.3 1085.6L1237.1 1086.5L1238.9 1087.4L1240.7 1088.3L1242.4 1089.2L1244.2 1090.1L1246.0 1091.0L1247.8 1091.9L1249.6 1092.8L1251.4 1093.7L1253.2 1094.6L1255.0 1095.5L1256.8 1096.4L1258.5 1097.3L1260.3 1098.2L1262.1 1099.1L1263.9 1100.0L1265.7 1100.9L1267.5 1101.8L1269.3 1102.7L1271.1 1103.6L1272.9 1104.5L1274.7 1105.4L1276.5 1106.3L1278.3 1107.2L1280.0 1108.0L1281.8 1108.9L1283.6 1109.8L1285.4 1110.7L1287.2 1111.6L1289.0 1112.5L1290.8 1113.4L1292.6 1114.3L1294.4 1115.2L1296.2 1116.0L1298.0 1116.9L1299.8 1117.8L1301.6 1118.7L1303.4 1119.6L1305.2 1120.5L1306.9 1121.4L1308.7 1122.3L1310.5 1123.2L1312.3 1124.1L1314.1 1125.0L1315.9 1125.9L1317.7 1126.8L1319.5 1127.7L1321.3 1128.6L1323.0 1129.5L1324.8 1130.4L1326.6 1131.3L1328.4 1132.3L1330.2 1133.2L1332.0 1134.1L1333.7 1135.0L1335.5 1135.9L1337.3 1136.8L1339.1 1137.7L1340.9 1138.6L1342.7 1139.5L1344.5 1140.4L1346.3 1141.3L1348.0 1142.2L1349.8 1143.1L1351.6 1144.0L1353.4 1144.8L1355.2 1145.7L1357.0 1146.6L1358.8 1147.5L1360.6 1148.3L1362.4 1149.2L1364.3 1150.1L1366.1 1150.9L1367.9 1151.8L1369.7 1152.6L1371.5 1153.4L1373.3 1154.3L1375.2 1155.1L1377.0 1155.9L1378.8 1156.7L1380.7 1157.5L1382.5 1158.3L1384.4 1159.1L1386.2 1159.8L1388.0 1160.6L1389.9 1161.4L1391.7 1162.2L1393.6 1162.9L1395.4 1163.7L1397.3 1164.5L1399.1 1165.3L1400.9 1166.1L1402.8 1166.9L1404.6 1167.8L1406.4 1168.6L1408.2 1169.5L1410.0 1170.3L1411.8 1171.2L1413.6 1172.1L1415.4 1173.0L1417.2 1173.9L1419.0 1174.8L1420.7 1175.8L1422.5 1176.7L1424.3 1177.7L1426.0 1178.6L1427.8 1179.6L1429.5 1180.6L1431.3 1181.5L1433.0 1182.5L1434.8 1183.5L1436.5 1184.5L1438.3 1185.5L1440.0 1186.4L1441.7 1187.4L1443.5 1188.4L1445.2 1189.4L1447.0 1190.4L1448.7 1191.4L1450.5 1192.4L1452.2 1193.3L1454.0 1194.3L1455.7 1195.3L1457.4 1196.3L1459.2 1197.2L1460.9 1198.2L1462.7 1199.2L1464.5 1200.1L1466.2 1201.1L1468.0 1202.1L1469.7 1203.0L1471.5 1204.0L1473.2 1205.0L1475.0 1205.9L1476.8 1206.9L1478.5 1207.8L1480.3 1208.8L1482.1 1209.7L1483.8 1210.6L1485.6 1211.6L1487.4 1212.5L1489.1 1213.4L1490.9 1214.4L1492.7 1215.3L1494.5 1216.2L1496.2 1217.1L1498.0 1218.0L1499.8 1219.0L1501.6 1219.9L1503.4 1220.8L1505.2 1221.7L1506.9 1222.6L1508.7 1223.5L1510.5 1224.4L1512.3 1225.3L1514.1 1226.2L1515.9 1227.1L1517.7 1228.0L1519.5 1228.9L1521.3 1229.7L1523.1 1230.6L1524.9 1231.5L1526.7 1232.4L1528.5 1233.3L1530.3 1234.2L1532.0 1235.1L1533.8 1235.9L1535.6 1236.8L1537.4 1237.7L1539.2 1238.6L1541.0 1239.5L1542.8 1240.3L1544.6 1241.2L1546.4 1242.1L1548.2 1243.0L1550.0 1243.9L1551.8 1244.7L1553.6 1245.6L1555.4 1246.5L1557.2 1247.3L1559.0 1248.2L1560.9 1249.1L1562.7 1249.9L1564.5 1250.8L1566.3 1251.7L1568.1 1252.5L1569.9 1253.4L1571.7 1254.3L1573.5 1255.1L1575.3 1256.0L1577.1 1256.8L1578.9 1257.7L1580.7 1258.5L1582.6 1259.4L1584.4 1260.3L1586.2 1261.1L1588.0 1261.9L1589.8 1262.8L1591.6 1263.6L1593.4 1264.5L1595.3 1265.3L1597.1 1266.2L1598.9 1267.0L1600.7 1267.8L1602.5 1268.7L1604.4 1269.5L1606.2 1270.3L1608.0 1271.1L1609.8 1272.0L1611.6 1272.8L1613.5 1273.6L1615.3 1274.5L1617.1 1275.3L1618.9 1276.1L1620.8 1276.9L1622.6 1277.8L1624.4 1278.6L1626.2 1279.4L1628.1 1280.3L1629.9 1281.1L1631.7 1281.9L1633.5 1282.8L1635.3 1283.6L1637.2 1284.4L1639.0 1285.3L1640.8 1286.1L1642.6 1287.0L1644.4 1287.8L1646.2 1288.7L1648.0 1289.5L1649.8 1290.4L1651.6 1291.3L1653.4 1292.1L1655.2 1293.0L1657.0 1293.9L1658.8 1294.8L1660.6 1295.6L1662.4 1296.5L1664.2 1297.4L1666.0 1298.3L1667.8 1299.2L1669.6 1300.0L1671.4 1300.9L1673.2 1301.8L1675.0 1302.7L1676.8 1303.5L1678.7 1304.4L1680.5 1305.3L1682.3 1306.1L1684.1 1307.0L1685.9 1307.8L1687.7 1308.7L1689.5 1309.5L1691.4 1310.3L1693.2 1311.2L1695.0 1312.0L1696.8 1312.8L1698.7 1313.6L1700.5 1314.3L1702.4 1315.1L1704.2 1315.9L1706.1 1316.6L1707.9 1317.4L1709.8 1318.1L1711.7 1318.8L1713.5 1319.5L1715.4 1320.2L1717.3 1320.9L1719.2 1321.6L1721.1 1322.3L1723.0 1323.0L1724.8 1323.6L1726.7 1324.3L1728.6 1324.9L1730.5 1325.6L1732.4 1326.3L1734.3 1326.9L1736.2 1327.6L1738.1 1328.2L1740.0 1328.9L1741.9 1329.5L1743.8 1330.2L1745.7 1330.8L1747.5 1331.5L1749.4 1332.2L1751.3 1332.8L1753.2 1333.5L1755.1 1334.2L1757.0 1334.9L1758.8 1335.6L1760.7 1336.3L1762.6 1336.9L1764.5 1337.6L1766.4 1338.4L1768.2 1339.1L1770.1 1339.8L1772.0 1340.5L1773.9 1341.2L1775.7 1341.9L1777.6 1342.6L1779.5 1343.3L1781.4 1344.0L1783.2 1344.7L1785.1 1345.4L1787.0 1346.1L1788.9 1346.8L1790.7 1347.4L1792.6 1348.1L1794.5 1348.8L1796.4 1349.5L1798.3 1350.1L1800.2 1350.8L1802.1 1351.4L1804.0 1352.1L1805.9 1352.7L1807.8 1353.3L1809.7 1354.0L1811.6 1354.6L1813.5 1355.2L1815.4 1355.8L1817.3 1356.4L1819.2 1357.0L1821.1 1357.6L1823.0 1358.2L1824.9 1358.8L1826.9 1359.4L1828.8 1360.0L1830.7 1360.6L1832.6 1361.1L1834.5 1361.7L1836.4 1362.3L1838.4 1362.8L1840.3 1363.4L1842.2 1364.0L1844.1 1364.5L1846.1 1365.1L1848.0 1365.6L1849.9 1366.2L1851.8 1366.7L1853.8 1367.3L1855.7 1367.8L1857.6 1368.4L1859.5 1368.9L1861.5 1369.5L1863.4 1370.0L1865.3 1370.5L1867.3 1371.0L1869.2 1371.6L1871.1 1372.1L1873.1 1372.6L1875.0 1373.1L1876.9 1373.6L1878.9 1374.1L1880.8 1374.7L1882.7 1375.2L1884.7 1375.7L1886.6 1376.2L1888.6 1376.6L1890.5 1377.1L1892.4 1377.6L1894.4 1378.1L1896.3 1378.6L1898.3 1379.0L1900.2 1379.5L1902.2 1380.0L1904.1 1380.4L1906.1 1380.9L1908.0 1381.3L1910.0 1381.8L1911.9 1382.2L1913.9 1382.6L1915.9 1383.0L1917.8 1383.4L1919.8 1383.8L1921.7 1384.2L1923.7 1384.6L1925.7 1385.0L1927.6 1385.4L1929.6 1385.7L1931.6 1386.1L1933.6 1386.4L1935.5 1386.8L1937.5 1387.1L1939.5 1387.4L1941.5 1387.7L1943.4 1388.0L1945.4 1388.3L1947.4 1388.6L1949.4 1388.9L1951.4 1389.1L1953.4 1389.4L1955.3 1389.6L1957.3 1389.9L1959.3 1390.1L1961.3 1390.4L1963.3 1390.6L1965.3 1390.8L1967.3 1391.1L1969.3 1391.3L1971.2 1391.5L1973.2 1391.7L1975.2 1391.9L1977.2 1392.2L1979.2 1392.4L1981.2 1392.6L1983.2 1392.8L1985.2 1393.0L1987.2 1393.2L1989.2 1393.5L1991.2 1393.7L1993.1 1393.9L1995.1 1394.1L1997.1 1394.3L1999.1 1394.5L2001.1 1394.7L2003.1 1394.9L2005.1 1395.1L2007.1 1395.3L2009.1 1395.5L2011.1 1395.7L2013.1 1395.9L2015.1 1396.1L2017.1 1396.2L2019.1 1396.4L2021.0 1396.6L2023.0 1396.7L2025.0 1396.9L2027.0 1397.1L2029.0 1397.2L2031.0 1397.4L2033.0 1397.5L2035.0 1397.7L2037.0 1397.8L2039.0 1397.9L2041.0 1398.1L2043.0 1398.2L2045.0 1398.3L2047.0 1398.5L2049.0 1398.6L2051.0 1398.7L2053.0 1398.8L2055.0 1398.9L2057.0 1399.1L2059.0 1399.2L2061.0 1399.3L2063.0 1399.4L2065.0 1399.5L2067.0 1399.6L2069.0 1399.7L2071.0 1399.8L2073.0 1399.9L2075.0 1400.0" stroke-width="9.6" stroke-dasharray="34.5 13.736" stroke-dashoffset="0"/>
<path d="M201.6 1255.0L201.6 1253.0L201.6 1251.0L201.7 1249.0L201.7 1247.0L201.7 1245.0L201.7 1243.0L201.7 1241.0L201.8 1239.0L201.8 1237.0L201.8 1235.0L201.8 1233.0L201.8 1231.0L201.9 1229.0L201.9 1227.0L201.9 1225.0L201.9 1223.0L201.9 1221.0L202.0 1219.0L202.0 1216.9L202.0 1214.9L202.0 1212.9L202.0 1210.9L202.0 1208.9L202.1 1206.9L202.1 1204.9L202.1 1202.9L202.1 1200.9L202.1 1198.9L202.2 1196.9L202.2 1194.9L202.2 1192.9L202.2 1190.9L202.2 1188.9L202.2 1186.9L202.3 1184.9L202.3 1182.9L202.3 1180.9L202.3 1178.9L202.3 1176.9L202.3 1174.9L202.4 1172.9L202.4 1170.9L202.4 1168.9L202.4 1166.9L202.4 1164.9L202.4 1162.9L202.4 1160.9L202.5 1158.9L202.5 1156.9L202.5 1154.9L202.5 1152.9L202.5 1150.9L202.5 1148.9L202.5 1146.9L202.5 1144.9L202.5 1142.8L202.6 1140.8L202.6 1138.8L202.6 1136.8L202.6 1134.8L202.6 1132.8L202.6 1130.8L202.6 1128.8L202.6 1126.8L202.6 1124.8L202.7 1122.8L202.7 1120.8L202.7 1118.8L202.7 1116.8L202.7 1114.8L202.7 1112.8L202.7 1110.8L202.7 1108.8L202.8 1106.8L202.8 1104.8L202.8 1102.8L202.8 1100.8L202.8 1098.8L202.8 1096.8L202.8 1094.8L202.9 1092.8L202.9 1090.8L202.9 1088.8L202.9 1086.8L202.9 1084.8L202.9 1082.8L203.0 1080.8L203.0 1078.8L203.0 1076.8L203.0 1074.8L203.0 1072.8L203.1 1070.8L203.1 1068.8L203.1 1066.7L203.1 1064.7L203.2 1062.7L203.2 1060.7L203.2 1058.7L203.3 1056.7L203.3 1054.7L203.3 1052.7L203.4 1050.7L203.4 1048.7L203.5 1046.7L203.6 1044.7L203.6 1042.7L203.7 1040.7L203.8 1038.7L203.9 1036.7L203.9 1034.7L204.0 1032.7L204.1 1030.7L204.2 1028.7L204.2 1026.7L204.3 1024.7L204.4 1022.7L204.5 1020.7L204.5 1018.7L204.6 1016.7L204.7 1014.7L204.8 1012.7L204.8 1010.7L204.9 1008.7L205.0 1006.7L205.1 1004.7L205.2 1002.7L205.3 1000.7L205.4 998.7L205.5 996.7L205.6 994.7L205.8 992.7L205.9 990.6L206.1 988.6L206.3 986.7L206.6 984.7L206.8 982.7L207.2 980.8L207.8 978.9L208.6 977.0L209.4 975.2L210.3 973.3L211.1 971.4L212.1 969.4L213.2 967.7L214.4 966.3L215.9 965.4L217.8 964.6L219.9 964.0L221.8 963.9L223.8 963.9L225.8 963.9L227.8 963.9L229.9 963.9L231.9 963.9L233.9 963.9L235.9 964.0L237.9 964.2L239.9 964.5L241.8 964.8L243.8 965.2L245.8 965.5L247.8 965.8L249.8 966.1L251.7 966.4L253.7 966.7L255.7 967.1L257.7 967.4L259.6 967.8L261.6 968.1L263.6 968.5L265.5 968.8L267.5 969.2L269.5 969.6L271.5 969.9L273.4 970.3L275.4 970.6L277.4 971.0L279.3 971.4L281.3 971.7L283.3 972.1L285.2 972.5L287.2 972.9L289.2 973.2L291.1 973.6L293.1 974.0L295.1 974.4L297.0 974.8L299.0 975.2L301.0 975.6L302.9 976.0L304.9 976.4L306.8 976.8L308.8 977.2L310.8 977.6L312.7 978.0L314.7 978.4L316.6 978.8L318.6 979.2L320.6 979.6L322.5 980.0L324.5 980.4L326.4 980.9L328.4 981.3L330.4 981.7L332.3 982.1L334.3 982.5L336.2 982.9L338.2 983.3L340.2 983.8L342.1 984.2L344.1 984.6L346.0 985.0L348.0 985.5L349.9 985.9L351.9 986.3L353.9 986.7L355.8 987.2L357.8 987.6L359.7 988.0L361.7 988.5L363.6 988.9L365.6 989.3L367.6 989.8L369.5 990.2L371.5 990.6L373.4 991.1L375.4 991.5L377.3 991.9L379.3 992.4L381.2 992.8L383.2 993.3L385.1 993.7L387.1 994.2L389.0 994.6L391.0 995.0L392.9 995.5L394.9 995.9L396.9 996.4L398.8 996.8L400.8 997.3L402.7 997.7L404.7 998.2L406.6 998.6L408.6 999.1L410.5 999.6L412.5 1000.0L414.4 1000.5L416.4 1000.9L418.3 1001.4L420.3 1001.8L422.2 1002.3L424.2 1002.7L426.1 1003.2L428.1 1003.7L430.0 1004.1L432.0 1004.6L433.9 1005.1L435.9 1005.5L437.8 1006.0L439.7 1006.4L441.7 1006.9L443.6 1007.4L445.6 1007.8L447.5 1008.3L449.5 1008.8L451.4 1009.2L453.4 1009.7L455.3 1010.2L457.3 1010.6L459.2 1011.1L461.2 1011.6L463.1 1012.0L465.1 1012.5L467.0 1013.0L469.0 1013.4L470.9 1013.9L472.9 1014.4L474.8 1014.9L476.7 1015.3L478.7 1015.8L480.6 1016.3L482.6 1016.8L484.5 1017.2L486.5 1017.7L488.4 1018.2L490.4 1018.6L492.3 1019.1L494.3 1019.6L496.2 1020.1L498.2 1020.5L500.1 1021.0L502.0 1021.5L504.0 1022.0L505.9 1022.4L507.9 1022.9L509.8 1023.4L511.8 1023.9L513.7 1024.3L515.7 1024.8L517.6 1025.3L519.6 1025.8L521.5 1026.2L523.4 1026.7L525.4 1027.2L527.3 1027.7L529.3 1028.2L531.2 1028.6L533.2 1029.1L535.1 1029.6L537.1 1030.1L539.0 1030.5L541.0 1031.0L542.9 1031.5L544.8 1032.0L546.8 1032.4L548.7 1032.9L550.7 1033.4L552.6 1033.9L554.6 1034.3L556.5 1034.8L558.5 1035.3L560.4 1035.8L562.4 1036.2L564.3 1036.7L566.2 1037.2L568.2 1037.7L570.1 1038.1L572.1 1038.6L574.0 1039.1L576.0 1039.6L577.9 1040.0L579.9 1040.5L581.8 1041.0L583.8 1041.5L585.7 1041.9L587.6 1042.4L589.6 1042.9L591.5 1043.4L593.5 1043.8L595.4 1044.3L597.4 1044.8L599.3 1045.2L601.3 1045.7L603.2 1046.2L605.2 1046.6L607.1 1047.1L609.1 1047.6L611.0 1048.1L613.0 1048.5L614.9 1049.0L616.8 1049.5L618.8 1049.9L620.7 1050.4L622.7 1050.9L624.6 1051.3L626.6 1051.8L628.5 1052.3L630.5 1052.8L632.4 1053.2L634.4 1053.7L636.3 1054.2L638.3 1054.6L640.2 1055.1L642.2 1055.6L644.1 1056.0L646.1 1056.5L648.0 1057.0L649.9 1057.5L651.9 1057.9L653.8 1058.4L655.8 1058.9L657.7 1059.3L659.7 1059.8L661.6 1060.3L663.6 1060.7L665.5 1061.2L667.5 1061.7L669.4 1062.2L671.4 1062.6L673.3 1063.1L675.3 1063.6L677.2 1064.0L679.1 1064.5L681.1 1065.0L683.0 1065.4L685.0 1065.9L686.9 1066.4L688.9 1066.9L690.8 1067.3L692.8 1067.8L694.7 1068.3L696.7 1068.7L698.6 1069.2L700.6 1069.7L702.5 1070.1L704.5 1070.6L706.4 1071.1L708.3 1071.6L710.3 1072.0L712.2 1072.5L714.2 1073.0L716.1 1073.4L718.1 1073.9L720.0 1074.4L722.0 1074.8L723.9 1075.3L725.9 1075.8L727.8 1076.3L729.8 1076.7L731.7 1077.2L733.7 1077.7L735.6 1078.1L737.6 1078.6L739.5 1079.1L741.4 1079.5L743.4 1080.0L745.3 1080.5L747.3 1081.0L749.2 1081.4L751.2 1081.9L753.1 1082.4L755.1 1082.8L757.0 1083.3L759.0 1083.8L760.9 1084.2L762.9 1084.7L764.8 1085.2L766.8 1085.7L768.7 1086.1L770.6 1086.6L772.6 1087.1L774.5 1087.5L776.5 1088.0L778.4 1088.5L780.4 1088.9L782.3 1089.4L784.3 1089.9L786.2 1090.4L788.2 1090.8L790.1 1091.3L792.1 1091.8L794.0 1092.2L796.0 1092.7L797.9 1093.2L799.8 1093.6L801.8 1094.1L803.7 1094.6L805.7 1095.1L807.6 1095.5L809.6 1096.0L811.5 1096.5L813.5 1096.9L815.4 1097.4L817.4 1097.9L819.3 1098.3L821.3 1098.8L823.2 1099.3L825.2 1099.8L827.1 1100.2L829.1 1100.7L831.0 1101.2L832.9 1101.6L834.9 1102.1L836.8 1102.6L838.8 1103.0L840.7 1103.5L842.7 1104.0L844.6 1104.5L846.6 1104.9L848.5 1105.4L850.5 1105.9L852.4 1106.3L854.4 1106.8L856.3 1107.3L858.3 1107.7L860.2 1108.2L862.1 1108.7L864.1 1109.2L866.0 1109.6L868.0 1110.1L869.9 1110.6L871.9 1111.0L873.8 1111.5L875.8 1112.0L877.7 1112.5L879.7 1112.9L881.6 1113.4L883.6 1113.9L885.5 1114.3L887.5 1114.8L889.4 1115.3L891.3 1115.7L893.3 1116.2L895.2 1116.7L897.2 1117.2L899.1 1117.6L901.1 1118.1L903.0 1118.6L905.0 1119.0L906.9 1119.5L908.9 1120.0L910.8 1120.4L912.8 1120.9L914.7 1121.4L916.7 1121.9L918.6 1122.3L920.5 1122.8L922.5 1123.3L924.4 1123.7L926.4 1124.2L928.3 1124.7L930.3 1125.1L932.2 1125.6L934.2 1126.1L936.1 1126.6L938.1 1127.0L940.0 1127.5L942.0 1128.0L943.9 1128.4L945.9 1128.9L947.8 1129.4L949.8 1129.8L951.7 1130.3L953.6 1130.8L955.6 1131.3L957.5 1131.7L959.5 1132.2L961.4 1132.7L963.4 1133.1L965.3 1133.6L967.3 1134.1L969.2 1134.5L971.2 1135.0L973.1 1135.5L975.1 1136.0L977.0 1136.4L979.0 1136.9L980.9 1137.4L982.8 1137.8L984.8 1138.3L986.7 1138.8L988.7 1139.2L990.6 1139.7L992.6 1140.2L994.5 1140.7L996.5 1141.1L998.4 1141.6L1000.4 1142.1L1002.3 1142.5L1004.3 1143.0L1006.2 1143.5L1008.2 1143.9L1010.1 1144.4L1012.0 1144.9L1014.0 1145.4L1015.9 1145.8L1017.9 1146.3L1019.8 1146.8L1021.8 1147.2L1023.7 1147.7L1025.7 1148.2L1027.6 1148.6L1029.6 1149.1L1031.5 1149.6L1033.5 1150.1L1035.4 1150.5L1037.4 1151.0L1039.3 1151.5L1041.3 1151.9L1043.2 1152.4L1045.1 1152.9L1047.1 1153.3L1049.0 1153.8L1051.0 1154.3L1052.9 1154.8L1054.9 1155.2L1056.8 1155.7L1058.8 1156.2L1060.7 1156.6L1062.7 1157.1L1064.6 1157.6L1066.6 1158.0L1068.5 1158.5L1070.5 1159.0L1072.4 1159.5L1074.3 1159.9L1076.3 1160.4L1078.2 1160.9L1080.2 1161.3L1082.1 1161.8L1084.1 1162.3L1086.0 1162.7L1088.0 1163.2L1089.9 1163.7L1091.9 1164.2L1093.8 1164.6L1095.8 1165.1L1097.7 1165.6L1099.7 1166.0L1101.6 1166.5L1103.5 1167.0L1105.5 1167.4L1107.4 1167.9L1109.4 1168.4L1111.3 1168.9L1113.3 1169.3L1115.2 1169.8L1117.2 1170.3L1119.1 1170.7L1121.1 1171.2L1123.0 1171.7L1125.0 1172.1L1126.9 1172.6L1128.9 1173.1L1130.8 1173.6L1132.8 1174.0L1134.7 1174.5L1136.6 1175.0L1138.6 1175.4L1140.5 1175.9L1142.5 1176.4L1144.4 1176.8L1146.4 1177.3L1148.3 1177.8L1150.3 1178.3L1152.2 1178.7L1154.2 1179.2L1156.1 1179.7L1158.1 1180.1L1160.0 1180.6L1162.0 1181.1L1163.9 1181.5L1165.8 1182.0L1167.8 1182.5L1169.7 1183.0L1171.7 1183.4L1173.6 1183.9L1175.6 1184.4L1177.5 1184.8L1179.5 1185.3L1181.4 1185.8L1183.4 1186.2L1185.3 1186.7L1187.3 1187.2L1189.2 1187.7L1191.2 1188.1L1193.1 1188.6L1195.0 1189.1L1197.0 1189.5L1198.9 1190.0L1200.9 1190.5L1202.8 1190.9L1204.8 1191.4L1206.7 1191.9L1208.7 1192.4L1210.6 1192.8L1212.6 1193.3L1214.5 1193.8L1216.5 1194.2L1218.4 1194.7L1220.4 1195.2L1222.3 1195.6L1224.2 1196.1L1226.2 1196.6L1228.1 1197.1L1230.1 1197.5L1232.0 1198.0L1234.0 1198.5L1235.9 1198.9L1237.9 1199.4L1239.8 1199.9L1241.8 1200.3L1243.7 1200.8L1245.7 1201.3L1247.6 1201.8L1249.6 1202.2L1251.5 1202.7L1253.5 1203.2L1255.4 1203.6L1257.3 1204.1L1259.3 1204.6L1261.2 1205.0L1263.2 1205.5L1265.1 1206.0L1267.1 1206.5L1269.0 1206.9L1271.0 1207.4L1272.9 1207.9L1274.9 1208.3L1276.8 1208.8L1278.8 1209.3L1280.7 1209.7L1282.7 1210.2L1284.6 1210.7L1286.5 1211.2L1288.5 1211.6L1290.4 1212.1L1292.4 1212.6L1294.3 1213.0L1296.3 1213.5L1298.2 1214.0L1300.2 1214.4L1302.1 1214.9L1304.1 1215.4L1306.0 1215.9L1308.0 1216.3L1309.9 1216.8L1311.9 1217.3L1313.8 1217.7L1315.7 1218.2L1317.7 1218.7L1319.6 1219.1L1321.6 1219.6L1323.5 1220.1L1325.5 1220.6L1327.4 1221.0L1329.4 1221.5L1331.3 1222.0L1333.3 1222.4L1335.2 1222.9L1337.2 1223.4L1339.1 1223.8L1341.1 1224.3L1343.0 1224.8L1345.0 1225.3L1346.9 1225.7L1348.8 1226.2L1350.8 1226.7L1352.7 1227.1L1354.7 1227.6L1356.6 1228.1L1358.6 1228.5L1360.5 1229.0L1362.5 1229.5L1364.4 1230.0L1366.4 1230.4L1368.3 1230.9L1370.3 1231.4L1372.2 1231.8L1374.2 1232.3L1376.1 1232.8L1378.0 1233.2L1380.0 1233.7L1381.9 1234.2L1383.9 1234.7L1385.8 1235.1L1387.8 1235.6L1389.7 1236.1L1391.7 1236.5L1393.6 1237.0L1395.6 1237.5L1397.5 1237.9L1399.5 1238.4L1401.4 1238.9L1403.4 1239.4L1405.3 1239.8L1407.2 1240.3L1409.2 1240.8L1411.1 1241.2L1413.1 1241.7L1415.0 1242.2L1417.0 1242.6L1418.9 1243.1L1420.9 1243.6L1422.8 1244.1L1424.8 1244.5L1426.7 1245.0L1428.7 1245.5L1430.6 1245.9L1432.6 1246.4L1434.5 1246.9L1436.5 1247.3L1438.4 1247.8L1440.3 1248.3L1442.3 1248.8L1444.2 1249.2L1446.2 1249.7L1448.1 1250.2L1450.1 1250.6L1452.0 1251.1L1454.0 1251.6L1455.9 1252.0L1457.9 1252.5L1459.8 1253.0L1461.8 1253.5L1463.7 1253.9L1465.7 1254.4L1467.6 1254.9L1469.5 1255.3L1471.5 1255.8L1473.4 1256.3L1475.4 1256.7L1477.3 1257.2L1479.3 1257.7L1481.2 1258.2L1483.2 1258.6L1485.1 1259.1L1487.1 1259.6L1489.0 1260.0L1491.0 1260.5L1492.9 1261.0L1494.9 1261.4L1496.8 1261.9L1498.7 1262.4L1500.7 1262.9L1502.6 1263.3L1504.6 1263.8L1506.5 1264.3L1508.5 1264.7L1510.4 1265.2L1512.4 1265.7L1514.3 1266.1L1516.3 1266.6L1518.2 1267.1L1520.2 1267.6L1522.1 1268.0L1524.1 1268.5L1526.0 1269.0L1528.0 1269.4L1529.9 1269.9L1531.8 1270.4L1533.8 1270.8L1535.7 1271.3L1537.7 1271.8L1539.6 1272.3L1541.6 1272.7L1543.5 1273.2L1545.5 1273.7L1547.4 1274.1L1549.4 1274.6L1551.3 1275.1L1553.3 1275.5L1555.2 1276.0L1557.2 1276.5L1559.1 1277.0L1561.0 1277.4L1563.0 1277.9L1564.9 1278.4L1566.9 1278.8L1568.8 1279.3L1570.8 1279.8L1572.7 1280.2L1574.7 1280.7L1576.6 1281.2L1578.6 1281.7L1580.5 1282.1L1582.5 1282.6L1584.4 1283.1L1586.4 1283.5L1588.3 1284.0L1590.2 1284.5L1592.2 1284.9L1594.1 1285.4L1596.1 1285.9L1598.0 1286.4L1600.0 1286.8L1601.9 1287.3L1603.9 1287.8L1605.8 1288.2L1607.8 1288.7L1609.7 1289.2L1611.7 1289.6L1613.6 1290.1L1615.6 1290.6L1617.5 1291.1L1619.4 1291.5L1621.4 1292.0L1623.3 1292.5L1625.3 1292.9L1627.2 1293.4L1629.2 1293.9L1631.1 1294.3L1633.1 1294.8L1635.0 1295.3L1637.0 1295.8L1638.9 1296.2L1640.9 1296.7L1642.8 1297.2L1644.8 1297.6L1646.7 1298.1L1648.7 1298.6L1650.6 1299.0L1652.5 1299.5L1654.5 1300.0L1656.4 1300.5L1658.4 1300.9L1660.3 1301.4L1662.3 1301.9L1664.2 1302.3L1666.2 1302.8L1668.1 1303.3L1670.1 1303.7L1672.0 1304.2L1674.0 1304.7L1675.9 1305.2L1677.9 1305.6L1679.8 1306.1L1681.7 1306.6L1683.7 1307.0L1685.6 1307.5L1687.6 1308.0L1689.5 1308.4L1691.5 1308.9L1693.4 1309.4L1695.4 1309.9L1697.3 1310.3L1699.3 1310.8L1701.2 1311.3L1703.2 1311.7L1705.1 1312.2L1707.1 1312.7L1709.0 1313.1L1710.9 1313.6L1712.9 1314.1L1714.8 1314.6L1716.8 1315.0L1718.7 1315.5L1720.7 1316.0L1722.6 1316.4L1724.6 1316.9L1726.5 1317.4L1728.5 1317.8L1730.4 1318.3L1732.4 1318.8L1734.3 1319.3L1736.3 1319.7L1738.2 1320.2L1740.2 1320.7L1742.1 1321.1L1744.0 1321.6L1746.0 1322.1L1747.9 1322.5L1749.9 1323.0L1751.8 1323.5L1753.8 1324.0L1755.7 1324.4L1757.7 1324.9L1759.6 1325.4L1761.6 1325.8L1763.5 1326.3L1765.5 1326.8L1767.4 1327.2L1769.4 1327.7L1771.3 1328.2L1773.2 1328.7L1775.2 1329.1L1777.1 1329.6L1779.1 1330.1L1781.0 1330.5L1783.0 1331.0L1784.9 1331.5L1786.9 1331.9L1788.8 1332.4L1790.8 1332.9L1792.7 1333.4L1794.7 1333.8L1796.6 1334.3L1798.6 1334.8L1800.5 1335.2L1802.4 1335.7L1804.4 1336.2L1806.3 1336.6L1808.3 1337.1L1810.2 1337.6L1812.2 1338.1L1814.1 1338.5L1816.1 1339.0L1818.0 1339.5L1820.0 1339.9L1821.9 1340.4L1823.9 1340.9L1825.8 1341.3L1827.8 1341.8L1829.7 1342.3L1831.7 1342.8L1833.6 1343.2L1835.5 1343.7L1837.5 1344.2L1839.4 1344.6L1841.4 1345.1L1843.3 1345.6L1845.3 1346.0L1847.2 1346.5L1849.2 1347.0L1851.1 1347.5L1853.1 1347.9L1855.0 1348.4L1857.0 1348.9L1858.9 1349.3L1860.9 1349.8L1862.8 1350.3L1864.7 1350.7L1866.7 1351.2L1868.6 1351.7L1870.6 1352.2L1872.5 1352.6L1874.5 1353.1L1876.4 1353.6L1878.4 1354.0L1880.3 1354.5L1882.3 1355.0L1884.2 1355.4L1886.2 1355.9L1888.1 1356.4L1890.1 1356.9L1892.0 1357.3L1893.9 1357.8L1895.9 1358.3L1897.8 1358.7L1899.8 1359.2L1901.7 1359.7L1903.7 1360.1L1905.6 1360.6L1907.6 1361.1L1909.5 1361.6L1911.5 1362.0L1913.4 1362.5L1915.4 1363.0L1917.3 1363.4L1919.3 1363.9L1921.2 1364.4L1923.1 1364.8L1925.1 1365.3L1927.0 1365.8L1929.0 1366.3L1930.9 1366.7L1932.9 1367.2L1934.8 1367.7L1936.8 1368.1L1938.7 1368.6L1940.7 1369.1L1942.6 1369.5L1944.6 1370.0L1946.5 1370.5L1948.5 1371.0L1950.4 1371.4L1952.4 1371.9L1954.3 1372.4L1956.2 1372.8L1958.2 1373.3L1960.1 1373.8L1962.1 1374.2L1964.0 1374.7L1966.0 1375.2L1967.9 1375.7L1969.9 1376.1L1971.8 1376.6L1973.8 1377.1L1975.7 1377.5L1977.7 1378.0L1979.6 1378.5L1981.6 1378.9L1983.5 1379.4L1985.4 1379.9L1987.4 1380.4L1989.3 1380.8L1991.3 1381.3L1993.2 1381.8L1995.2 1382.2L1997.1 1382.7L1999.1 1383.2L2001.0 1383.6L2003.0 1384.1L2004.9 1384.6L2006.9 1385.1L2008.8 1385.5L2010.8 1386.0L2012.7 1386.5L2014.6 1386.9L2016.6 1387.4L2018.5 1387.9L2020.5 1388.3L2022.4 1388.8L2024.4 1389.3L2026.3 1389.8L2028.3 1390.2L2030.2 1390.7L2032.2 1391.2L2034.1 1391.6L2036.1 1392.1L2038.0 1392.6L2040.0 1393.0L2041.9 1393.5L2043.9 1394.0L2045.8 1394.5L2047.7 1394.9L2049.7 1395.4L2051.6 1395.9L2053.6 1396.3L2055.5 1396.8L2057.5 1397.3L2059.4 1397.7L2061.4 1398.2L2063.3 1398.7L2065.3 1399.2L2067.2 1399.6L2069.2 1400.1L2071.1 1400.6L2073.1 1401.0L2075.0 1401.5" stroke-width="10.7" stroke-linecap="square"/>
<path d="M201.6 1307.5L201.6 1305.5L201.7 1303.5L201.7 1301.5L201.7 1299.5L201.8 1297.5L201.8 1295.5L201.8 1293.5L201.9 1291.5L201.9 1289.5L201.9 1287.5L202.0 1285.5L202.0 1283.5L202.1 1281.5L202.1 1279.5L202.1 1277.5L202.2 1275.5L202.2 1273.5L202.3 1271.5L202.3 1269.5L202.3 1267.5L202.4 1265.4L202.4 1263.4L202.5 1261.4L202.5 1259.4L202.6 1257.4L202.6 1255.4L202.6 1253.4L202.7 1251.4L202.7 1249.4L202.8 1247.4L202.8 1245.4L202.8 1243.4L202.9 1241.4L202.9 1239.4L203.0 1237.4L203.0 1235.4L203.1 1233.4L203.1 1231.4L203.2 1229.4L203.2 1227.4L203.3 1225.4L203.3 1223.4L203.4 1221.4L203.4 1219.4L203.5 1217.4L203.5 1215.4L203.6 1213.4L203.6 1211.4L203.7 1209.4L203.8 1207.4L203.8 1205.4L203.9 1203.4L204.0 1201.4L204.0 1199.4L204.1 1197.4L204.2 1195.4L204.3 1193.4L204.3 1191.4L204.4 1189.4L204.5 1187.4L204.6 1185.4L204.7 1183.4L204.8 1181.4L205.0 1179.4L205.1 1177.4L205.2 1175.4L205.3 1173.4L205.5 1171.4L205.6 1169.4L205.7 1167.4L205.9 1165.4L206.0 1163.4L206.2 1161.4L206.4 1159.4L206.6 1157.4L206.9 1155.4L207.1 1153.4L207.4 1151.5L207.7 1149.5L208.0 1147.5L208.3 1145.5L208.6 1143.5L208.9 1141.5L209.2 1139.6L209.4 1137.6L209.7 1135.6L210.0 1133.6L210.3 1131.6L210.5 1129.6L210.8 1127.6L211.0 1125.7L211.3 1123.7L211.5 1121.7L211.8 1119.7L212.0 1117.7L212.2 1115.7L212.4 1113.7L212.7 1111.7L212.9 1109.7L213.1 1107.7L213.4 1105.8L213.6 1103.8L213.8 1101.8L214.1 1099.8L214.3 1097.8L214.5 1095.8L214.8 1093.8L215.0 1091.8L215.3 1089.9L215.5 1087.9L215.8 1085.9L216.1 1083.9L216.4 1081.9L216.7 1079.9L216.9 1077.9L217.2 1076.0L217.5 1074.0L217.8 1072.0L218.1 1070.0L218.4 1068.0L218.7 1066.0L219.1 1064.0L219.4 1062.0L219.8 1060.1L220.2 1058.1L220.7 1056.2L221.2 1054.3L221.7 1052.4L222.4 1050.5L223.1 1048.7L223.9 1046.8L224.7 1045.0L225.6 1043.1L226.5 1041.3L227.5 1039.5L228.5 1037.8L229.4 1036.0L230.4 1034.3L231.4 1032.5L232.4 1030.7L233.5 1028.9L234.6 1027.2L235.8 1025.5L237.1 1023.9L238.4 1022.5L239.7 1021.2L241.2 1020.1L242.9 1018.9L244.7 1017.7L246.5 1016.7L248.4 1015.8L250.4 1015.2L252.3 1015.0L254.2 1015.0L256.2 1015.0L258.2 1015.0L260.2 1015.1L262.2 1015.1L264.3 1015.1L266.3 1015.2L268.3 1015.2L270.3 1015.3L272.3 1015.5L274.3 1015.8L276.2 1016.2L278.2 1016.6L280.2 1017.0L282.2 1017.4L284.1 1017.8L286.1 1018.2L288.0 1018.7L290.0 1019.1L291.9 1019.5L293.9 1019.9L295.9 1020.4L297.8 1020.8L299.8 1021.2L301.7 1021.6L303.7 1022.0L305.6 1022.5L307.6 1022.9L309.6 1023.3L311.5 1023.7L313.5 1024.1L315.4 1024.5L317.4 1025.0L319.4 1025.4L321.3 1025.8L323.3 1026.2L325.2 1026.7L327.2 1027.1L329.1 1027.5L331.1 1028.0L333.0 1028.4L335.0 1028.9L337.0 1029.3L338.9 1029.8L340.9 1030.2L342.8 1030.7L344.8 1031.1L346.7 1031.6L348.7 1032.0L350.6 1032.5L352.6 1033.0L354.5 1033.4L356.4 1033.9L358.4 1034.4L360.3 1034.9L362.3 1035.4L364.2 1035.9L366.2 1036.3L368.1 1036.8L370.0 1037.3L372.0 1037.8L373.9 1038.4L375.8 1038.9L377.8 1039.4L379.7 1039.9L381.7 1040.4L383.6 1040.9L385.5 1041.4L387.5 1041.9L389.4 1042.4L391.4 1042.9L393.3 1043.4L395.2 1043.9L397.2 1044.4L399.1 1044.9L401.1 1045.3L403.0 1045.8L405.0 1046.3L406.9 1046.7L408.9 1047.2L410.8 1047.6L412.8 1048.1L414.7 1048.5L416.7 1048.9L418.6 1049.3L420.6 1049.7L422.6 1050.1L424.5 1050.5L426.5 1050.9L428.5 1051.3L430.4 1051.6L432.4 1052.0L434.4 1052.4L436.3 1052.7L438.3 1053.1L440.3 1053.5L442.2 1053.8L444.2 1054.2L446.2 1054.6L448.2 1054.9L450.1 1055.3L452.1 1055.7L454.1 1056.1L456.0 1056.5L458.0 1056.8L460.0 1057.2L461.9 1057.6L463.9 1058.0L465.8 1058.4L467.8 1058.8L469.8 1059.3L471.7 1059.7L473.7 1060.1L475.6 1060.5L477.6 1060.9L479.5 1061.4L481.5 1061.8L483.5 1062.2L485.4 1062.6L487.4 1063.1L489.3 1063.5L491.3 1063.9L493.3 1064.3L495.2 1064.7L497.2 1065.2L499.1 1065.6L501.1 1066.0L503.1 1066.4L505.0 1066.8L507.0 1067.2L508.9 1067.5L510.9 1067.9L512.9 1068.3L514.9 1068.7L516.8 1069.0L518.8 1069.4L520.8 1069.8L522.7 1070.1L524.7 1070.5L526.7 1070.8L528.6 1071.2L530.6 1071.5L532.6 1071.9L534.6 1072.2L536.5 1072.5L538.5 1072.9L540.5 1073.2L542.5 1073.6L544.4 1073.9L546.4 1074.2L548.4 1074.6L550.4 1074.9L552.3 1075.2L554.3 1075.6L556.3 1075.9L558.3 1076.3L560.2 1076.6L562.2 1076.9L564.2 1077.3L566.1 1077.6L568.1 1078.0L570.1 1078.3L572.1 1078.7L574.0 1079.0L576.0 1079.4L578.0 1079.7L580.0 1080.1L581.9 1080.4L583.9 1080.8L585.9 1081.2L587.8 1081.5L589.8 1081.9L591.8 1082.3L593.7 1082.6L595.7 1083.0L597.7 1083.4L599.6 1083.8L601.6 1084.2L603.6 1084.5L605.5 1084.9L607.5 1085.3L609.5 1085.7L611.4 1086.1L613.4 1086.4L615.4 1086.8L617.3 1087.2L619.3 1087.6L621.3 1087.9L623.2 1088.3L625.2 1088.7L627.2 1089.0L629.1 1089.4L631.1 1089.8L633.1 1090.1L635.1 1090.5L637.0 1090.8L639.0 1091.1L641.0 1091.5L643.0 1091.8L644.9 1092.1L646.9 1092.4L648.9 1092.8L650.9 1093.1L652.8 1093.4L654.8 1093.7L656.8 1094.0L658.8 1094.3L660.8 1094.6L662.7 1094.9L664.7 1095.2L666.7 1095.5L668.7 1095.8L670.7 1096.1L672.6 1096.4L674.6 1096.7L676.6 1097.0L678.6 1097.3L680.6 1097.6L682.5 1097.9L684.5 1098.2L686.5 1098.5L688.5 1098.7L690.5 1099.0L692.5 1099.3L694.4 1099.6L696.4 1099.9L698.4 1100.2L700.4 1100.5L702.4 1100.7L704.4 1101.0L706.3 1101.3L708.3 1101.6L710.3 1101.9L712.3 1102.1L714.3 1102.4L716.3 1102.7L718.2 1103.0L720.2 1103.3L722.2 1103.5L724.2 1103.8L726.2 1104.1L728.2 1104.4L730.1 1104.6L732.1 1104.9L734.1 1105.2L736.1 1105.5L738.1 1105.7L740.1 1106.0L742.0 1106.3L744.0 1106.6L746.0 1106.8L748.0 1107.1L750.0 1107.4L752.0 1107.7L753.9 1107.9L755.9 1108.2L757.9 1108.5L759.9 1108.8L761.9 1109.1L763.9 1109.4L765.8 1109.7L767.8 1109.9L769.8 1110.2L771.8 1110.5L773.8 1110.8L775.7 1111.1L777.7 1111.4L779.7 1111.7L781.7 1112.1L783.7 1112.4L785.6 1112.7L787.6 1113.0L789.6 1113.3L791.6 1113.7L793.5 1114.0L795.5 1114.3L797.5 1114.7L799.5 1115.0L801.4 1115.4L803.4 1115.7L805.4 1116.1L807.3 1116.4L809.3 1116.8L811.3 1117.2L813.2 1117.5L815.2 1117.9L817.2 1118.3L819.1 1118.7L821.1 1119.1L823.1 1119.4L825.0 1119.8L827.0 1120.2L829.0 1120.6L830.9 1121.0L832.9 1121.4L834.9 1121.7L836.8 1122.1L838.8 1122.5L840.8 1122.9L842.7 1123.2L844.7 1123.6L846.7 1124.0L848.7 1124.3L850.6 1124.7L852.6 1125.0L854.6 1125.4L856.5 1125.7L858.5 1126.1L860.5 1126.4L862.5 1126.7L864.4 1127.0L866.4 1127.3L868.4 1127.6L870.4 1127.9L872.4 1128.2L874.4 1128.5L876.3 1128.8L878.3 1129.0L880.3 1129.3L882.3 1129.6L884.3 1129.9L886.3 1130.2L888.2 1130.4L890.2 1130.7L892.2 1131.0L894.2 1131.3L896.2 1131.6L898.2 1131.8L900.1 1132.1L902.1 1132.4L904.1 1132.7L906.1 1133.0L908.1 1133.3L910.0 1133.6L912.0 1134.0L914.0 1134.3L916.0 1134.6L917.9 1134.9L919.9 1135.2L921.9 1135.6L923.9 1135.9L925.8 1136.2L927.8 1136.6L929.8 1136.9L931.8 1137.2L933.7 1137.6L935.7 1137.9L937.7 1138.3L939.7 1138.6L941.6 1138.9L943.6 1139.3L945.6 1139.6L947.6 1140.0L949.5 1140.3L951.5 1140.7L953.5 1141.0L955.4 1141.4L957.4 1141.7L959.4 1142.0L961.4 1142.4L963.3 1142.7L965.3 1143.1L967.3 1143.4L969.3 1143.8L971.2 1144.1L973.2 1144.5L975.2 1144.8L977.1 1145.2L979.1 1145.5L981.1 1145.9L983.1 1146.2L985.0 1146.6L987.0 1147.0L989.0 1147.3L990.9 1147.7L992.9 1148.0L994.9 1148.4L996.8 1148.8L998.8 1149.1L1000.8 1149.5L1002.8 1149.9L1004.7 1150.2L1006.7 1150.6L1008.7 1151.0L1010.6 1151.4L1012.6 1151.7L1014.6 1152.1L1016.5 1152.5L1018.5 1152.8L1020.5 1153.2L1022.4 1153.6L1024.4 1154.0L1026.4 1154.3L1028.3 1154.7L1030.3 1155.1L1032.3 1155.5L1034.2 1155.8L1036.2 1156.2L1038.2 1156.6L1040.1 1156.9L1042.1 1157.3L1044.1 1157.7L1046.1 1158.0L1048.0 1158.4L1050.0 1158.8L1052.0 1159.1L1053.9 1159.5L1055.9 1159.9L1057.9 1160.2L1059.8 1160.6L1061.8 1161.0L1063.8 1161.3L1065.7 1161.7L1067.7 1162.0L1069.7 1162.4L1071.7 1162.8L1073.6 1163.2L1075.6 1163.5L1077.6 1163.9L1079.5 1164.3L1081.5 1164.6L1083.5 1165.0L1085.4 1165.4L1087.4 1165.8L1089.4 1166.2L1091.3 1166.6L1093.3 1167.0L1095.2 1167.3L1097.2 1167.7L1099.2 1168.1L1101.1 1168.5L1103.1 1168.9L1105.1 1169.3L1107.0 1169.8L1109.0 1170.2L1110.9 1170.6L1112.9 1171.0L1114.9 1171.4L1116.8 1171.8L1118.8 1172.2L1120.7 1172.7L1122.7 1173.1L1124.7 1173.5L1126.6 1173.9L1128.6 1174.4L1130.5 1174.8L1132.5 1175.2L1134.4 1175.6L1136.4 1176.1L1138.3 1176.5L1140.3 1176.9L1142.3 1177.4L1144.2 1177.8L1146.2 1178.3L1148.1 1178.7L1150.1 1179.1L1152.0 1179.6L1154.0 1180.0L1155.9 1180.5L1157.9 1180.9L1159.8 1181.3L1161.8 1181.8L1163.7 1182.2L1165.7 1182.7L1167.7 1183.1L1169.6 1183.6L1171.6 1184.0L1173.5 1184.5L1175.5 1184.9L1177.4 1185.3L1179.4 1185.8L1181.3 1186.2L1183.3 1186.7L1185.2 1187.1L1187.2 1187.6L1189.1 1188.0L1191.1 1188.5L1193.0 1188.9L1195.0 1189.3L1196.9 1189.8L1198.9 1190.2L1200.8 1190.7L1202.8 1191.1L1204.8 1191.6L1206.7 1192.0L1208.7 1192.4L1210.6 1192.9L1212.6 1193.3L1214.5 1193.8L1216.5 1194.2L1218.4 1194.6L1220.4 1195.1L1222.3 1195.5L1224.3 1196.0L1226.2 1196.4L1228.2 1196.8L1230.2 1197.3L1232.1 1197.7L1234.1 1198.1L1236.0 1198.6L1238.0 1199.0L1239.9 1199.4L1241.9 1199.9L1243.8 1200.3L1245.8 1200.7L1247.8 1201.2L1249.7 1201.6L1251.7 1202.0L1253.6 1202.4L1255.6 1202.9L1257.5 1203.3L1259.5 1203.7L1261.5 1204.2L1263.4 1204.6L1265.4 1205.0L1267.3 1205.4L1269.3 1205.8L1271.2 1206.3L1273.2 1206.7L1275.2 1207.1L1277.1 1207.5L1279.1 1207.9L1281.0 1208.4L1283.0 1208.8L1285.0 1209.2L1286.9 1209.6L1288.9 1210.0L1290.8 1210.4L1292.8 1210.8L1294.8 1211.2L1296.7 1211.6L1298.7 1212.0L1300.6 1212.4L1302.6 1212.9L1304.6 1213.3L1306.5 1213.7L1308.5 1214.1L1310.4 1214.5L1312.4 1214.9L1314.4 1215.3L1316.3 1215.7L1318.3 1216.1L1320.3 1216.5L1322.2 1216.9L1324.2 1217.3L1326.1 1217.7L1328.1 1218.1L1330.1 1218.5L1332.0 1218.9L1334.0 1219.3L1335.9 1219.7L1337.9 1220.1L1339.9 1220.6L1341.8 1221.0L1343.8 1221.4L1345.7 1221.8L1347.7 1222.2L1349.7 1222.6L1351.6 1223.1L1353.6 1223.5L1355.5 1223.9L1357.5 1224.3L1359.4 1224.8L1361.4 1225.2L1363.4 1225.6L1365.3 1226.1L1367.3 1226.5L1369.2 1226.9L1371.2 1227.4L1373.1 1227.8L1375.1 1228.3L1377.0 1228.7L1379.0 1229.2L1380.9 1229.6L1382.9 1230.1L1384.8 1230.5L1386.8 1231.0L1388.7 1231.4L1390.7 1231.9L1392.6 1232.3L1394.6 1232.8L1396.5 1233.2L1398.5 1233.7L1400.4 1234.1L1402.4 1234.6L1404.3 1235.1L1406.3 1235.5L1408.2 1236.0L1410.2 1236.4L1412.1 1236.9L1414.1 1237.3L1416.0 1237.8L1418.0 1238.3L1419.9 1238.7L1421.9 1239.2L1423.8 1239.6L1425.8 1240.1L1427.7 1240.5L1429.7 1241.0L1431.6 1241.5L1433.6 1241.9L1435.5 1242.4L1437.5 1242.8L1439.4 1243.3L1441.4 1243.7L1443.3 1244.2L1445.3 1244.7L1447.2 1245.1L1449.2 1245.6L1451.1 1246.0L1453.1 1246.5L1455.0 1247.0L1457.0 1247.4L1458.9 1247.9L1460.9 1248.3L1462.8 1248.8L1464.8 1249.3L1466.7 1249.7L1468.7 1250.2L1470.6 1250.6L1472.6 1251.1L1474.5 1251.6L1476.5 1252.0L1478.4 1252.5L1480.4 1253.0L1482.3 1253.4L1484.3 1253.9L1486.2 1254.3L1488.2 1254.8L1490.1 1255.3L1492.1 1255.7L1494.0 1256.2L1496.0 1256.7L1497.9 1257.1L1499.9 1257.6L1501.8 1258.0L1503.8 1258.5L1505.7 1259.0L1507.7 1259.4L1509.6 1259.9L1511.6 1260.4L1513.5 1260.8L1515.5 1261.3L1517.4 1261.8L1519.3 1262.2L1521.3 1262.7L1523.2 1263.2L1525.2 1263.6L1527.1 1264.1L1529.1 1264.5L1531.0 1265.0L1533.0 1265.5L1534.9 1265.9L1536.9 1266.4L1538.8 1266.9L1540.8 1267.3L1542.7 1267.8L1544.7 1268.3L1546.6 1268.7L1548.6 1269.2L1550.5 1269.7L1552.5 1270.2L1554.4 1270.6L1556.4 1271.1L1558.3 1271.6L1560.2 1272.0L1562.2 1272.5L1564.1 1273.0L1566.1 1273.4L1568.0 1273.9L1570.0 1274.4L1571.9 1274.8L1573.9 1275.3L1575.8 1275.8L1577.8 1276.2L1579.7 1276.7L1581.7 1277.2L1583.6 1277.7L1585.6 1278.1L1587.5 1278.6L1589.5 1279.1L1591.4 1279.5L1593.3 1280.0L1595.3 1280.5L1597.2 1281.0L1599.2 1281.4L1601.1 1281.9L1603.1 1282.4L1605.0 1282.8L1607.0 1283.3L1608.9 1283.8L1610.9 1284.3L1612.8 1284.7L1614.8 1285.2L1616.7 1285.7L1618.6 1286.2L1620.6 1286.6L1622.5 1287.1L1624.5 1287.6L1626.4 1288.1L1628.4 1288.5L1630.3 1289.0L1632.3 1289.5L1634.2 1289.9L1636.2 1290.4L1638.1 1290.9L1640.0 1291.4L1642.0 1291.9L1643.9 1292.3L1645.9 1292.8L1647.8 1293.3L1649.8 1293.8L1651.7 1294.2L1653.7 1294.7L1655.6 1295.2L1657.6 1295.7L1659.5 1296.1L1661.4 1296.6L1663.4 1297.1L1665.3 1297.6L1667.3 1298.1L1669.2 1298.5L1671.2 1299.0L1673.1 1299.5L1675.1 1300.0L1677.0 1300.4L1679.0 1300.9L1680.9 1301.4L1682.8 1301.9L1684.8 1302.4L1686.7 1302.8L1688.7 1303.3L1690.6 1303.8L1692.6 1304.3L1694.5 1304.8L1696.5 1305.2L1698.4 1305.7L1700.3 1306.2L1702.3 1306.7L1704.2 1307.1L1706.2 1307.6L1708.1 1308.1L1710.1 1308.6L1712.0 1309.1L1714.0 1309.5L1715.9 1310.0L1717.9 1310.5L1719.8 1311.0L1721.7 1311.4L1723.7 1311.9L1725.6 1312.4L1727.6 1312.8L1729.5 1313.3L1731.5 1313.8L1733.4 1314.3L1735.4 1314.7L1737.3 1315.2L1739.3 1315.7L1741.2 1316.1L1743.2 1316.6L1745.1 1317.1L1747.1 1317.5L1749.0 1318.0L1750.9 1318.5L1752.9 1318.9L1754.8 1319.4L1756.8 1319.9L1758.7 1320.3L1760.7 1320.8L1762.6 1321.3L1764.6 1321.7L1766.5 1322.2L1768.5 1322.7L1770.4 1323.1L1772.4 1323.6L1774.3 1324.1L1776.3 1324.5L1778.2 1325.0L1780.2 1325.5L1782.1 1325.9L1784.1 1326.4L1786.0 1326.9L1788.0 1327.3L1789.9 1327.8L1791.8 1328.3L1793.8 1328.7L1795.7 1329.2L1797.7 1329.7L1799.6 1330.1L1801.6 1330.6L1803.5 1331.1L1805.5 1331.5L1807.4 1332.0L1809.4 1332.5L1811.3 1332.9L1813.3 1333.4L1815.2 1333.9L1817.2 1334.4L1819.1 1334.8L1821.1 1335.3L1823.0 1335.8L1824.9 1336.3L1826.9 1336.7L1828.8 1337.2L1830.8 1337.7L1832.7 1338.2L1834.7 1338.6L1836.6 1339.1L1838.6 1339.6L1840.5 1340.1L1842.5 1340.5L1844.4 1341.0L1846.3 1341.5L1848.3 1342.0L1850.2 1342.5L1852.2 1343.0L1854.1 1343.4L1856.1 1343.9L1858.0 1344.4L1859.9 1344.9L1861.9 1345.4L1863.8 1345.9L1865.8 1346.4L1867.7 1346.9L1869.7 1347.4L1871.6 1347.8L1873.5 1348.3L1875.5 1348.8L1877.4 1349.3L1879.4 1349.8L1881.3 1350.3L1883.2 1350.8L1885.2 1351.3L1887.1 1351.8L1889.1 1352.3L1891.0 1352.8L1892.9 1353.3L1894.9 1353.8L1896.8 1354.3L1898.8 1354.8L1900.7 1355.3L1902.6 1355.8L1904.6 1356.3L1906.5 1356.8L1908.4 1357.3L1910.4 1357.8L1912.3 1358.4L1914.3 1358.9L1916.2 1359.4L1918.1 1359.9L1920.1 1360.4L1922.0 1360.9L1923.9 1361.4L1925.9 1361.9L1927.8 1362.4L1929.8 1362.9L1931.7 1363.4L1933.6 1363.9L1935.6 1364.4L1937.5 1364.9L1939.5 1365.4L1941.4 1365.9L1943.3 1366.4L1945.3 1366.9L1947.2 1367.4L1949.1 1368.0L1951.1 1368.5L1953.0 1369.0L1955.0 1369.5L1956.9 1370.0L1958.8 1370.5L1960.8 1371.0L1962.7 1371.5L1964.7 1372.0L1966.6 1372.5L1968.5 1373.0L1970.5 1373.5L1972.4 1374.0L1974.3 1374.5L1976.3 1375.0L1978.2 1375.5L1980.2 1376.0L1982.1 1376.5L1984.0 1377.0L1986.0 1377.5L1987.9 1378.0L1989.9 1378.5L1991.8 1379.0L1993.7 1379.5L1995.7 1380.0L1997.6 1380.5L1999.6 1381.0L2001.5 1381.5L2003.4 1382.0L2005.4 1382.5L2007.3 1383.0L2009.2 1383.5L2011.2 1384.0L2013.1 1384.5L2015.1 1385.0L2017.0 1385.5L2018.9 1386.0L2020.9 1386.5L2022.8 1387.0L2024.8 1387.6L2026.7 1388.1L2028.6 1388.6L2030.6 1389.1L2032.5 1389.6L2034.4 1390.1L2036.4 1390.6L2038.3 1391.1L2040.2 1391.7L2042.2 1392.2L2044.1 1392.7L2046.0 1393.2L2048.0 1393.7L2049.9 1394.3L2051.8 1394.8L2053.8 1395.3L2055.7 1395.8L2057.6 1396.4L2059.6 1396.9L2061.5 1397.4L2063.4 1398.0L2065.4 1398.5L2067.3 1399.0L2069.2 1399.6L2071.1 1400.1L2073.1 1400.7L2075.0 1401.2" stroke-width="9.6" stroke-dasharray="34.5 13.736" stroke-dashoffset="-0.9"/>
</g>
<path d="M572.5 1398.4V1387.0M572.5 53.0V64.4M945.2 1398.4V1387.0M945.2 53.0V64.4M1318.0 1398.4V1387.0M1318.0 53.0V64.4M1690.7 1398.4V1387.0M1690.7 53.0V64.4M201.5 1174.2H212.9M2063.5 1174.2H2052.1M201.5 949.9H212.9M2063.5 949.9H2052.1M201.5 725.7H212.9M2063.5 725.7H2052.1M201.5 501.5H212.9M2063.5 501.5H2052.1M201.5 277.2H212.9M2063.5 277.2H2052.1" stroke="#000" stroke-width="3.3" fill="none" shape-rendering="crispEdges"/>
<rect x="201.5" y="53.0" width="1862.0" height="1345.4" fill="none" stroke="#000" stroke-width="3.3" shape-rendering="crispEdges"/>
<g font-size="62.0">
<text x="192.2" y="1421.4" text-anchor="end" textLength="97.1" lengthAdjust="spacingAndGlyphs">0.0</text>
<text x="192.2" y="1197.2" text-anchor="end" textLength="97.1" lengthAdjust="spacingAndGlyphs">0.5</text>
<text x="192.2" y="972.9" text-anchor="end" textLength="97.1" lengthAdjust="spacingAndGlyphs">1.0</text>
<text x="192.2" y="748.7" text-anchor="end" textLength="97.1" lengthAdjust="spacingAndGlyphs">1.5</text>
<text x="192.2" y="524.5" text-anchor="end" textLength="97.1" lengthAdjust="spacingAndGlyphs">2.0</text>
<text x="192.2" y="300.2" text-anchor="end" textLength="97.1" lengthAdjust="spacingAndGlyphs">2.5</text>
<text x="192.2" y="76.0" text-anchor="end" textLength="97.1" lengthAdjust="spacingAndGlyphs">3.0</text>
<text x="572.5" y="1454.8" text-anchor="middle" textLength="97.1" lengthAdjust="spacingAndGlyphs">0.2</text>
<text x="945.2" y="1454.8" text-anchor="middle" textLength="97.1" lengthAdjust="spacingAndGlyphs">0.4</text>
<text x="1318.0" y="1454.8" text-anchor="middle" textLength="97.1" lengthAdjust="spacingAndGlyphs">0.6</text>
<text x="1690.7" y="1454.8" text-anchor="middle" textLength="97.1" lengthAdjust="spacingAndGlyphs">0.8</text>
<text x="2063.5" y="1454.8" text-anchor="middle" textLength="97.1" lengthAdjust="spacingAndGlyphs">1.0</text>
<text x="1132.5" y="1525.9" text-anchor="middle">x</text>
<text transform="translate(70.1 725.7) rotate(-90)" text-anchor="middle" textLength="485.0" lengthAdjust="spacingAndGlyphs">momentum flux</text>
</g>
<rect x="1510" y="76.7" width="529.2" height="242.5" rx="8" ry="8" fill="#fff" stroke="#d6d6d6" stroke-width="3.8"/>
<path d="M1529.2 116.3H1625.7" stroke="#000" stroke-width="10.7" stroke-linecap="square" fill="none"/>
<path d="M1528.9 195.7H1627.2" stroke="#000" stroke-width="9.6" stroke-dasharray="34.5 13.736" fill="none"/>
<g font-size="48.60">
<text x="1664.3" y="132.8" textLength="106.7" lengthAdjust="spacingAndGlyphs">DNS</text>
<text transform="translate(1664.3 211.7)"><tspan x="0.00" y="-0.13" class="it">C</tspan><tspan x="33.97" y="13.11" font-size="34.02">0</tspan><tspan x="37.46" y="-18.65" font-size="34.02">−1</tspan><tspan x="88.98" y="-0.13" letter-spacing="0.27"> expansion</tspan></text>
<text transform="translate(1664.3 289.4)"><tspan x="0.00" y="-0.38" class="it">C</tspan><tspan x="33.97" y="7.56" font-size="34.02">0</tspan><tspan x="66.44" y="-0.38">=</tspan><tspan x="116.68" y="-0.38">7</tspan></text>
<g transform="translate(237.0 277.2)"><text><tspan x="0.00" y="-22.18">1</tspan><tspan x="0.00" y="28.93">2</tspan><tspan x="37.02" y="-0.96">(</tspan><tspan x="56.01" y="-0.96" class="it">σ</tspan><tspan x="86.84" y="6.98" font-size="34.02">11</tspan><tspan x="140.98" y="-0.96">−</tspan><tspan x="191.22" y="-0.96" class="it">σ</tspan><tspan x="222.06" y="6.98" font-size="34.02">22</tspan><tspan x="266.72" y="-0.96">)</tspan></text><rect x="0" y="-13.2" width="32.15" height="4"/></g>
<text transform="translate(386.1 949.9)"><tspan x="0.00" y="-0.73">−</tspan><tspan x="40.77" y="-0.73" class="it">σ</tspan><tspan x="71.60" y="7.22" font-size="34.02">12</tspan></text>
<g transform="translate(945.2 905.1)"><text><tspan x="0.00" y="-0.51">−</tspan><tspan x="40.77" y="-1.81" class="it">D</tspan><tspan x="78.22" y="6.15" font-size="34.02">12</tspan><tspan x="122.88" y="-34.98" class="it">du</tspan><tspan x="184.60" y="-21.74" font-size="34.02">1</tspan><tspan x="186.76" y="-53.50" font-size="34.02">0</tspan><tspan x="135.08" y="30.22" class="it">dx</tspan></text><rect x="121.78" y="-13.1" width="87.4" height="4"/></g>
<g transform="translate(386.1 1219.0)"><text><tspan x="0.00" y="-1.71" class="it">D</tspan><tspan x="37.46" y="6.65" font-size="34.02">22</tspan><tspan x="82.12" y="-34.98" class="it">du</tspan><tspan x="143.83" y="-21.74" font-size="34.02">1</tspan><tspan x="145.99" y="-53.50" font-size="34.02">0</tspan><tspan x="94.32" y="30.22" class="it">dx</tspan></text><rect x="82.12" y="-13.1" width="87.0" height="4"/></g>
</g>
</svg></body></html>
